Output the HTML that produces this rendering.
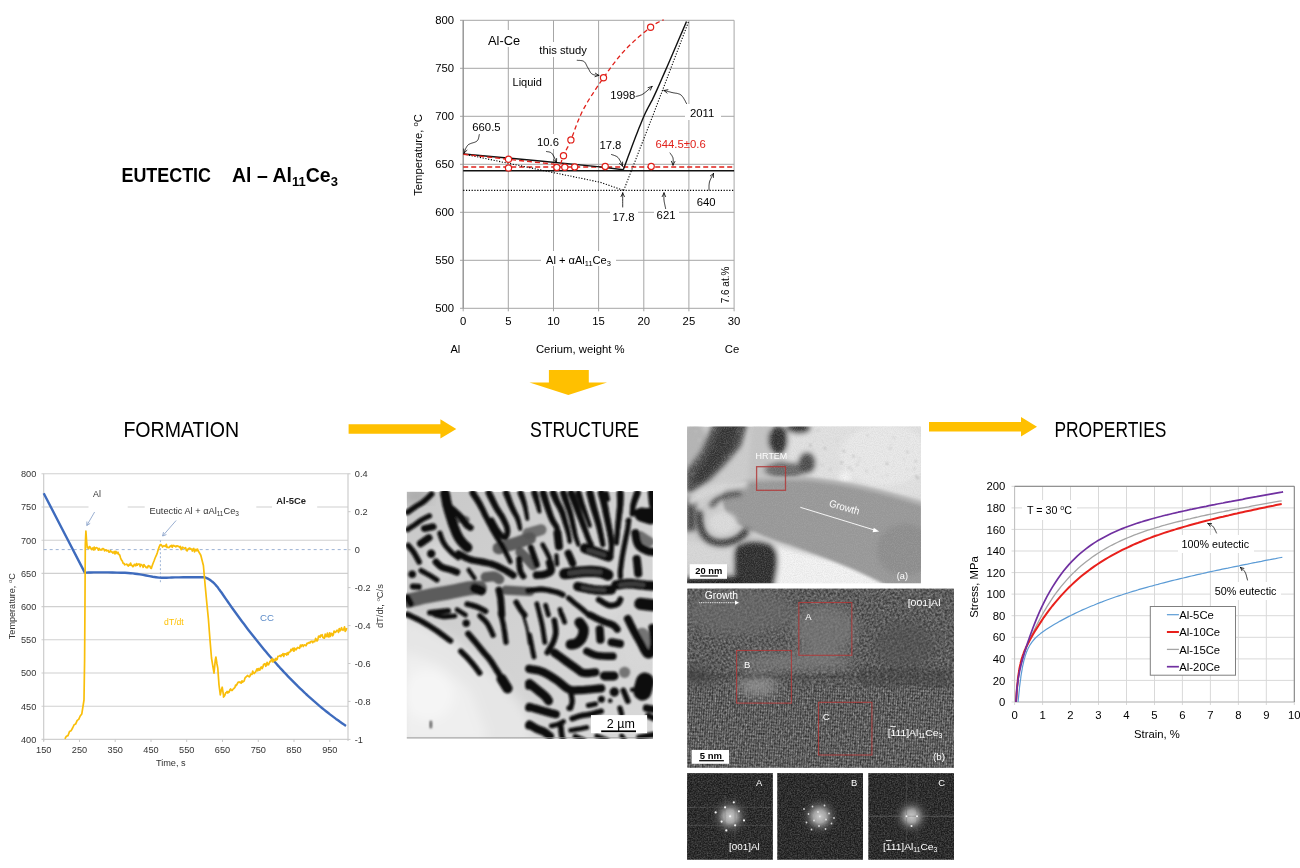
<!DOCTYPE html>
<html><head><meta charset="utf-8"><title>Al-Ce eutectic</title>
<style>
html,body{margin:0;padding:0;background:#fff;}
body{width:1300px;height:868px;overflow:hidden;}
svg{display:block;font-family:'Liberation Sans', sans-serif;}
</style></head>
<body>
<svg width="1300" height="868" viewBox="0 0 1300 868">
<rect x="0" y="0" width="1300" height="868" fill="#fff"/>
<text x="121.5" y="182.0" font-size="19.5" text-anchor="start" fill="#000" font-weight="bold" textLength="89.5" lengthAdjust="spacingAndGlyphs" >EUTECTIC</text>
<text x="232" y="182" font-size="19.5" font-weight="bold" fill="#000">Al – Al<tspan font-size="13" dy="4">11</tspan><tspan dy="-4">Ce</tspan><tspan font-size="13" dy="4">3</tspan></text>
<text x="123.4" y="436.5" font-size="21.6" text-anchor="start" fill="#000" textLength="115.8" lengthAdjust="spacingAndGlyphs" >FORMATION</text>
<text x="530.0" y="436.7" font-size="21.6" text-anchor="start" fill="#000" textLength="109" lengthAdjust="spacingAndGlyphs" >STRUCTURE</text>
<text x="1054.4" y="436.9" font-size="21.6" text-anchor="start" fill="#000" textLength="112" lengthAdjust="spacingAndGlyphs" >PROPERTIES</text>
<polygon points="348.6,424.2 440.4,424.2 440.4,419.2 456.3,428.9 440.4,438.6 440.4,433.7 348.6,433.7" fill="#FFC000"/>
<polygon points="929,422 1021,422 1021,417 1037,426.8 1021,436.6 1021,431.6 929,431.6" fill="#FFC000"/>
<polygon points="548.9,370.1 588.8,370.1 588.8,382.6 607,382.6 568.3,394.9 529.5,382.6 548.9,382.6" fill="#FFC000"/>
<g>
<line x1="460.0" y1="308.3" x2="734.1" y2="308.3" stroke="#a6a6a6" stroke-width="1" />
<line x1="460.0" y1="260.3" x2="734.1" y2="260.3" stroke="#a6a6a6" stroke-width="1" />
<line x1="460.0" y1="212.3" x2="734.1" y2="212.3" stroke="#a6a6a6" stroke-width="1" />
<line x1="460.0" y1="164.3" x2="734.1" y2="164.3" stroke="#a6a6a6" stroke-width="1" />
<line x1="460.0" y1="116.3" x2="734.1" y2="116.3" stroke="#a6a6a6" stroke-width="1" />
<line x1="460.0" y1="68.3" x2="734.1" y2="68.3" stroke="#a6a6a6" stroke-width="1" />
<line x1="460.0" y1="20.3" x2="734.1" y2="20.3" stroke="#a6a6a6" stroke-width="1" />
<line x1="463.2" y1="20.3" x2="463.2" y2="311.3" stroke="#a6a6a6" stroke-width="1" />
<line x1="508.3" y1="20.3" x2="508.3" y2="311.3" stroke="#a6a6a6" stroke-width="1" />
<line x1="553.5" y1="20.3" x2="553.5" y2="311.3" stroke="#a6a6a6" stroke-width="1" />
<line x1="598.6" y1="20.3" x2="598.6" y2="311.3" stroke="#a6a6a6" stroke-width="1" />
<line x1="643.8" y1="20.3" x2="643.8" y2="311.3" stroke="#a6a6a6" stroke-width="1" />
<line x1="688.9" y1="20.3" x2="688.9" y2="311.3" stroke="#a6a6a6" stroke-width="1" />
<line x1="734.1" y1="20.3" x2="734.1" y2="311.3" stroke="#a6a6a6" stroke-width="1" />
<line x1="463.2" y1="20.3" x2="463.2" y2="308.3" stroke="#8c8c8c" stroke-width="1" />
<rect x="484.0" y="30.0" width="40.0" height="17.0" fill="#fff" />
<rect x="536.0" y="42.0" width="54.0" height="15.0" fill="#fff" />
<rect x="509.0" y="73.0" width="36.0" height="16.0" fill="#fff" />
<rect x="606.0" y="86.0" width="34.0" height="16.0" fill="#fff" />
<rect x="685.0" y="104.0" width="36.0" height="16.0" fill="#fff" />
<rect x="469.0" y="119.0" width="35.0" height="15.0" fill="#fff" />
<rect x="533.0" y="134.0" width="28.0" height="15.0" fill="#fff" />
<rect x="610.0" y="208.0" width="28.0" height="16.0" fill="#fff" />
<rect x="654.0" y="206.0" width="25.0" height="16.0" fill="#fff" />
<rect x="541.0" y="251.0" width="75.0" height="15.0" fill="#fff" />
<text x="454.0" y="312.4" font-size="11.3" text-anchor="end" fill="#000" >500</text>
<text x="454.0" y="264.4" font-size="11.3" text-anchor="end" fill="#000" >550</text>
<text x="454.0" y="216.4" font-size="11.3" text-anchor="end" fill="#000" >600</text>
<text x="454.0" y="168.4" font-size="11.3" text-anchor="end" fill="#000" >650</text>
<text x="454.0" y="120.4" font-size="11.3" text-anchor="end" fill="#000" >700</text>
<text x="454.0" y="72.4" font-size="11.3" text-anchor="end" fill="#000" >750</text>
<text x="454.0" y="24.4" font-size="11.3" text-anchor="end" fill="#000" >800</text>
<text x="463.2" y="325.0" font-size="11.3" text-anchor="middle" fill="#000" >0</text>
<text x="508.3" y="325.0" font-size="11.3" text-anchor="middle" fill="#000" >5</text>
<text x="553.5" y="325.0" font-size="11.3" text-anchor="middle" fill="#000" >10</text>
<text x="598.6" y="325.0" font-size="11.3" text-anchor="middle" fill="#000" >15</text>
<text x="643.8" y="325.0" font-size="11.3" text-anchor="middle" fill="#000" >20</text>
<text x="688.9" y="325.0" font-size="11.3" text-anchor="middle" fill="#000" >25</text>
<text x="734.1" y="325.0" font-size="11.3" text-anchor="middle" fill="#000" >30</text>
<text x="455.3" y="353.0" font-size="11" text-anchor="middle" fill="#000" >Al</text>
<text x="732.0" y="353.0" font-size="11.3" text-anchor="middle" fill="#000" >Ce</text>
<text x="580.3" y="353.1" font-size="11.3" text-anchor="middle" fill="#000" textLength="88.8" lengthAdjust="spacingAndGlyphs" >Cerium, weight %</text>
<text transform="translate(421.5,155) rotate(-90)" font-size="11.1" text-anchor="middle" fill="#000" textLength="81.6" lengthAdjust="spacingAndGlyphs">Temperature, <tspan font-size="7.5" dy="-4">o</tspan><tspan dy="4">C</tspan></text>
<text transform="translate(728.5,285) rotate(-90)" font-size="10" text-anchor="middle" fill="#000">7.6 at.%</text>
<text x="488.0" y="44.7" font-size="12.8" text-anchor="start" fill="#000" >Al-Ce</text>
<text x="539.3" y="53.8" font-size="11.2" text-anchor="start" fill="#000" textLength="47.5" lengthAdjust="spacingAndGlyphs" >this study</text>
<text x="512.5" y="85.6" font-size="11.1" text-anchor="start" fill="#000" textLength="29.4" lengthAdjust="spacingAndGlyphs" >Liquid</text>
<text x="610.2" y="99.3" font-size="11.3" text-anchor="start" fill="#000" >1998</text>
<text x="690.0" y="116.5" font-size="11.3" text-anchor="start" fill="#000" >2011</text>
<text x="472.3" y="131.2" font-size="11.3" text-anchor="start" fill="#000" >660.5</text>
<text x="537.0" y="145.7" font-size="11.3" text-anchor="start" fill="#000" >10.6</text>
<text x="599.4" y="149.3" font-size="11.3" text-anchor="start" fill="#000" >17.8</text>
<text x="655.5" y="147.5" font-size="11.3" text-anchor="start" fill="#e0201a" >644.5±0.6</text>
<text x="612.5" y="220.8" font-size="11.3" text-anchor="start" fill="#000" >17.8</text>
<text x="656.6" y="218.8" font-size="11.3" text-anchor="start" fill="#000" >621</text>
<text x="696.7" y="206.1" font-size="11.3" text-anchor="start" fill="#000" >640</text>
<text x="578.5" y="263.5" font-size="11.1" text-anchor="middle" fill="#000">Al + αAl<tspan font-size="7.5" dy="2.5">11</tspan><tspan dy="-2.5">Ce</tspan><tspan font-size="7.5" dy="2.5">3</tspan></text>
<line x1="463.2" y1="190.4" x2="734.1" y2="190.4" stroke="#000" stroke-width="1.1" stroke-dasharray="1.2,1.6" />
<line x1="463.2" y1="170.7" x2="734.1" y2="170.7" stroke="#111" stroke-width="1.6" />
<line x1="463.2" y1="167.0" x2="734.1" y2="167.0" stroke="#e0201a" stroke-width="1.4" stroke-dasharray="5,3" />
<polyline points="463.4,154.0 540.0,161.0 600.0,166.9 623.3,169.8" fill="none" stroke="#111" stroke-width="1.4" />
<polyline points="623.3,169.8 624.5,166.6 626.1,162.2 628.0,157.0 630.1,151.4 632.1,145.9 634.0,141.0 635.7,136.6 637.4,132.2 639.0,128.0 640.7,123.9 642.3,119.9 644.0,116.0 645.6,112.5 647.2,109.4 648.8,106.3 650.5,103.2 652.4,99.6 654.4,95.4 656.7,90.4 659.2,84.8 661.8,78.8 664.5,72.6 667.3,66.3 670.0,60.0 672.9,53.3 676.0,46.0 679.2,38.5 682.2,31.6 684.7,25.7 686.5,21.5" fill="none" stroke="#111" stroke-width="1.4" />
<polyline points="463.4,154.0 600.0,182.2 623.7,190.4" fill="none" stroke="#000" stroke-width="1.1" stroke-dasharray="1.2,1.6" />
<polyline points="623.7,190.4 655.0,110.0 688.6,21.5" fill="none" stroke="#000" stroke-width="1.1" stroke-dasharray="1.2,1.6" />
<polyline points="463.4,154.3 468.3,154.8 475.0,155.6 482.9,156.5 491.6,157.4 500.3,158.4 508.5,159.3 516.9,160.2 526.2,161.2 535.5,162.2 544.2,163.1 551.5,163.9 556.8,164.5" fill="none" stroke="#e0201a" stroke-width="1.4" stroke-dasharray="5,3" />
<polyline points="560.5,164.2 560.7,163.6 561.0,162.8 561.3,161.9 561.6,160.8 562.1,159.7 562.5,158.4 563.1,157.0 563.7,155.5 564.4,154.0 565.1,152.4 565.9,150.8 566.7,149.0 567.7,147.1 568.7,145.0 569.7,142.6 570.9,139.9 572.1,136.9 573.4,133.5 574.7,129.8 576.1,126.0 577.6,122.0 579.3,118.0 581.1,113.9 583.0,110.0 585.2,106.1 587.5,102.0 590.0,97.9 592.7,93.8 595.4,89.7 598.1,85.6 600.8,81.6 603.5,77.8 606.1,74.1 608.7,70.4 611.3,66.8 613.9,63.3 616.6,59.9 619.3,56.5 622.1,53.2 625.0,50.0 628.1,46.8 631.4,43.6 634.8,40.4 638.3,37.3 641.7,34.4 645.0,31.7 648.0,29.3 650.6,27.2 652.9,25.5 655.1,24.1 657.0,22.9 658.8,22.0 660.3,21.3 661.6,20.7 662.8,20.2 663.7,19.7" fill="none" stroke="#e0201a" stroke-width="1.3" stroke-dasharray="4.5,3" />
<circle cx="508.5" cy="159.3" r="3.1" fill="#fff" stroke="#e0201a" stroke-width="1.2"/>
<circle cx="508.5" cy="167.9" r="3.1" fill="#fff" stroke="#e0201a" stroke-width="1.2"/>
<circle cx="556.8" cy="167.5" r="3.1" fill="#fff" stroke="#e0201a" stroke-width="1.2"/>
<circle cx="564.8" cy="167.2" r="3.1" fill="#fff" stroke="#e0201a" stroke-width="1.2"/>
<circle cx="574.7" cy="167.0" r="3.1" fill="#fff" stroke="#e0201a" stroke-width="1.2"/>
<circle cx="563.5" cy="155.8" r="3.1" fill="#fff" stroke="#e0201a" stroke-width="1.2"/>
<circle cx="570.9" cy="139.9" r="3.1" fill="#fff" stroke="#e0201a" stroke-width="1.2"/>
<circle cx="603.5" cy="77.8" r="3.1" fill="#fff" stroke="#e0201a" stroke-width="1.2"/>
<circle cx="650.6" cy="27.2" r="3.1" fill="#fff" stroke="#e0201a" stroke-width="1.2"/>
<circle cx="605.2" cy="166.5" r="3.1" fill="#fff" stroke="#e0201a" stroke-width="1.2"/>
<circle cx="651.2" cy="166.5" r="3.1" fill="#fff" stroke="#e0201a" stroke-width="1.2"/>
<polyline points="479.3,134.6 479.2,135.0 479.1,135.5 479.0,136.1 478.9,136.8 478.7,137.5 478.5,138.3 478.3,139.1 477.9,139.8 477.5,140.4 477.0,141.0 476.3,141.5 475.5,141.9 474.6,142.3 473.6,142.6 472.6,142.9 471.6,143.2 470.5,143.6 469.6,144.0 468.7,144.4 468.0,145.0 467.4,145.7 466.8,146.5 466.3,147.4 465.8,148.3 465.4,149.2 465.1,150.2 464.7,151.1 464.5,151.8 464.2,152.5 464.0,153.0" fill="none" stroke="#000" stroke-width="0.8" stroke-linecap="round"/>
<line x1="464.0" y1="153.0" x2="463.7" y2="149.0" stroke="#000" stroke-width="0.8" stroke-linecap="round"/>
<line x1="464.0" y1="153.0" x2="467.0" y2="150.3" stroke="#000" stroke-width="0.8" stroke-linecap="round"/>
<polyline points="546.4,151.5 546.7,151.6 547.2,151.7 547.7,151.7 548.3,151.8 548.9,151.9 549.6,152.1 550.2,152.3 550.9,152.6 551.5,153.0 552.0,153.5 552.5,154.2 553.0,155.0 553.6,156.0 554.1,157.0 554.6,158.1 555.1,159.2 555.5,160.2 555.9,161.2 556.2,161.9 556.5,162.5" fill="none" stroke="#000" stroke-width="0.8" stroke-linecap="round"/>
<line x1="556.5" y1="162.5" x2="553.4" y2="159.9" stroke="#000" stroke-width="0.8" stroke-linecap="round"/>
<line x1="556.5" y1="162.5" x2="556.6" y2="158.5" stroke="#000" stroke-width="0.8" stroke-linecap="round"/>
<polyline points="577.2,60.3 577.6,60.3 578.2,60.4 578.8,60.4 579.6,60.4 580.4,60.5 581.2,60.6 582.0,60.7 582.7,60.9 583.4,61.2 584.0,61.5 584.5,61.9 585.0,62.5 585.4,63.1 585.8,63.7 586.2,64.5 586.5,65.2 586.9,65.9 587.2,66.6 587.6,67.3 588.0,68.0 588.4,68.6 588.8,69.3 589.1,70.0 589.5,70.7 589.8,71.3 590.2,72.0 590.6,72.6 591.0,73.1 591.5,73.6 592.0,74.0 592.6,74.3 593.3,74.6 594.0,74.8 594.8,75.0 595.6,75.1 596.4,75.2 597.2,75.2 597.8,75.3 598.4,75.3 598.8,75.4" fill="none" stroke="#000" stroke-width="0.8" stroke-linecap="round"/>
<line x1="598.8" y1="75.4" x2="595.0" y2="76.7" stroke="#000" stroke-width="0.8" stroke-linecap="round"/>
<line x1="598.8" y1="75.4" x2="595.4" y2="73.2" stroke="#000" stroke-width="0.8" stroke-linecap="round"/>
<polyline points="636.0,96.5 636.4,96.4 636.9,96.2 637.5,96.1 638.2,95.9 638.9,95.7 639.7,95.5 640.5,95.2 641.4,94.9 642.2,94.5 643.0,94.0 643.9,93.4 644.8,92.7 645.8,91.9 646.9,91.0 647.9,90.1 649.0,89.2 649.9,88.4 650.7,87.6 651.5,87.0 652.0,86.5" fill="none" stroke="#000" stroke-width="0.8" stroke-linecap="round"/>
<line x1="652.0" y1="86.5" x2="650.4" y2="90.2" stroke="#000" stroke-width="0.8" stroke-linecap="round"/>
<line x1="652.0" y1="86.5" x2="648.1" y2="87.6" stroke="#000" stroke-width="0.8" stroke-linecap="round"/>
<polyline points="686.5,103.5 686.2,103.0 685.8,102.2 685.4,101.4 684.9,100.4 684.3,99.4 683.7,98.4 683.1,97.4 682.4,96.5 681.7,95.6 681.0,95.0 680.2,94.5 679.4,94.1 678.5,93.8 677.6,93.5 676.7,93.3 675.7,93.2 674.7,93.0 673.8,92.9 672.9,92.7 672.0,92.5 671.1,92.3 670.2,92.0 669.3,91.8 668.3,91.6 667.4,91.3 666.6,91.1 665.8,90.9 665.1,90.8 664.5,90.6 664.0,90.5" fill="none" stroke="#000" stroke-width="0.8" stroke-linecap="round"/>
<line x1="664.0" y1="90.5" x2="667.9" y2="89.7" stroke="#000" stroke-width="0.8" stroke-linecap="round"/>
<line x1="664.0" y1="90.5" x2="667.1" y2="93.1" stroke="#000" stroke-width="0.8" stroke-linecap="round"/>
<polyline points="611.5,154.5 611.9,154.7 612.4,154.8 613.0,155.0 613.7,155.2 614.5,155.5 615.2,155.8 616.0,156.1 616.7,156.5 617.4,157.0 618.0,157.5 618.6,158.2 619.1,159.0 619.6,159.9 620.2,160.9 620.7,161.9 621.1,162.9 621.5,163.9 621.9,164.8 622.2,165.5 622.5,166.0" fill="none" stroke="#000" stroke-width="0.8" stroke-linecap="round"/>
<line x1="622.5" y1="166.0" x2="619.4" y2="163.5" stroke="#000" stroke-width="0.8" stroke-linecap="round"/>
<line x1="622.5" y1="166.0" x2="622.6" y2="162.0" stroke="#000" stroke-width="0.8" stroke-linecap="round"/>
<polyline points="670.0,153.0 670.2,153.3 670.5,153.6 670.8,154.1 671.1,154.5 671.5,155.1 671.9,155.6 672.2,156.2 672.5,156.8 672.8,157.4 673.0,158.0 673.1,158.7 673.2,159.4 673.2,160.2 673.2,161.0 673.2,161.8 673.1,162.6 673.1,163.4 673.0,164.0 673.0,164.6 673.0,165.0" fill="none" stroke="#000" stroke-width="0.8" stroke-linecap="round"/>
<line x1="673.0" y1="165.0" x2="671.4" y2="161.3" stroke="#000" stroke-width="0.8" stroke-linecap="round"/>
<line x1="673.0" y1="165.0" x2="674.9" y2="161.5" stroke="#000" stroke-width="0.8" stroke-linecap="round"/>
<polyline points="622.7,207.0 622.7,206.1 622.7,204.9 622.7,203.4 622.7,201.7 622.7,200.0 622.7,198.3 622.7,196.6 622.7,195.1 622.7,193.9 622.7,193.0" fill="none" stroke="#000" stroke-width="0.8" stroke-linecap="round"/>
<line x1="622.7" y1="193.0" x2="624.4" y2="196.6" stroke="#000" stroke-width="0.8" stroke-linecap="round"/>
<line x1="622.7" y1="193.0" x2="621.0" y2="196.6" stroke="#000" stroke-width="0.8" stroke-linecap="round"/>
<polyline points="665.6,208.5 665.5,208.0 665.4,207.3 665.2,206.5 665.0,205.6 664.8,204.7 664.6,203.7 664.4,202.7 664.2,201.7 664.1,200.8 664.0,200.0 663.9,199.2 663.9,198.4 663.9,197.6 663.9,196.8 663.9,196.0 663.9,195.2 663.9,194.5 664.0,193.9 664.0,193.4 664.0,193.0" fill="none" stroke="#000" stroke-width="0.8" stroke-linecap="round"/>
<line x1="664.0" y1="193.0" x2="665.6" y2="196.6" stroke="#000" stroke-width="0.8" stroke-linecap="round"/>
<line x1="664.0" y1="193.0" x2="662.2" y2="196.6" stroke="#000" stroke-width="0.8" stroke-linecap="round"/>
<polyline points="709.0,190.0 709.0,189.5 709.0,188.9 709.0,188.2 709.0,187.4 709.0,186.5 709.0,185.6 709.1,184.7 709.2,183.8 709.3,182.9 709.5,182.0 709.8,181.1 710.1,180.2 710.6,179.2 711.0,178.2 711.5,177.2 712.0,176.3 712.5,175.4 712.9,174.7 713.2,174.0 713.5,173.5" fill="none" stroke="#000" stroke-width="0.8" stroke-linecap="round"/>
<line x1="713.5" y1="173.5" x2="713.4" y2="177.5" stroke="#000" stroke-width="0.8" stroke-linecap="round"/>
<line x1="713.5" y1="173.5" x2="710.3" y2="175.9" stroke="#000" stroke-width="0.8" stroke-linecap="round"/>
</g>
<g>
<line x1="41.5" y1="739.4" x2="348.0" y2="739.4" stroke="#d0d0d0" stroke-width="1.1" />
<line x1="41.5" y1="706.2" x2="348.0" y2="706.2" stroke="#d0d0d0" stroke-width="1.1" />
<line x1="41.5" y1="673.0" x2="348.0" y2="673.0" stroke="#d0d0d0" stroke-width="1.1" />
<line x1="41.5" y1="639.8" x2="348.0" y2="639.8" stroke="#d0d0d0" stroke-width="1.1" />
<line x1="41.5" y1="606.6" x2="348.0" y2="606.6" stroke="#d0d0d0" stroke-width="1.1" />
<line x1="41.5" y1="573.4" x2="348.0" y2="573.4" stroke="#d0d0d0" stroke-width="1.1" />
<line x1="41.5" y1="540.2" x2="348.0" y2="540.2" stroke="#d0d0d0" stroke-width="1.1" />
<line x1="41.5" y1="507.0" x2="348.0" y2="507.0" stroke="#d0d0d0" stroke-width="1.1" />
<line x1="41.5" y1="473.8" x2="348.0" y2="473.8" stroke="#d0d0d0" stroke-width="1.1" />
<line x1="43.7" y1="473.8" x2="43.7" y2="741.0" stroke="#c8c8c8" stroke-width="1.1" />
<line x1="348.0" y1="473.8" x2="348.0" y2="741.0" stroke="#c8c8c8" stroke-width="1.1" />
<line x1="43.7" y1="739.4" x2="43.7" y2="742.0" stroke="#c8c8c8" stroke-width="1" />
<line x1="79.5" y1="739.4" x2="79.5" y2="742.0" stroke="#c8c8c8" stroke-width="1" />
<line x1="115.2" y1="739.4" x2="115.2" y2="742.0" stroke="#c8c8c8" stroke-width="1" />
<line x1="151.0" y1="739.4" x2="151.0" y2="742.0" stroke="#c8c8c8" stroke-width="1" />
<line x1="186.7" y1="739.4" x2="186.7" y2="742.0" stroke="#c8c8c8" stroke-width="1" />
<line x1="222.5" y1="739.4" x2="222.5" y2="742.0" stroke="#c8c8c8" stroke-width="1" />
<line x1="258.3" y1="739.4" x2="258.3" y2="742.0" stroke="#c8c8c8" stroke-width="1" />
<line x1="294.0" y1="739.4" x2="294.0" y2="742.0" stroke="#c8c8c8" stroke-width="1" />
<line x1="329.8" y1="739.4" x2="329.8" y2="742.0" stroke="#c8c8c8" stroke-width="1" />
<line x1="348.0" y1="473.8" x2="350.5" y2="473.8" stroke="#c8c8c8" stroke-width="1" />
<line x1="348.0" y1="511.7" x2="350.5" y2="511.7" stroke="#c8c8c8" stroke-width="1" />
<line x1="348.0" y1="549.7" x2="350.5" y2="549.7" stroke="#c8c8c8" stroke-width="1" />
<line x1="348.0" y1="587.6" x2="350.5" y2="587.6" stroke="#c8c8c8" stroke-width="1" />
<line x1="348.0" y1="625.6" x2="350.5" y2="625.6" stroke="#c8c8c8" stroke-width="1" />
<line x1="348.0" y1="663.5" x2="350.5" y2="663.5" stroke="#c8c8c8" stroke-width="1" />
<line x1="348.0" y1="701.4" x2="350.5" y2="701.4" stroke="#c8c8c8" stroke-width="1" />
<line x1="348.0" y1="739.4" x2="350.5" y2="739.4" stroke="#c8c8c8" stroke-width="1" />
<rect x="88.5" y="486.0" width="39.2" height="26.0" fill="#fff" />
<rect x="144.7" y="500.0" width="111.6" height="16.0" fill="#fff" />
<rect x="272.0" y="495.0" width="45.2" height="16.0" fill="#fff" />
<text x="36.3" y="742.7" font-size="9.2" text-anchor="end" fill="#333333" >400</text>
<text x="36.3" y="709.5" font-size="9.2" text-anchor="end" fill="#333333" >450</text>
<text x="36.3" y="676.3" font-size="9.2" text-anchor="end" fill="#333333" >500</text>
<text x="36.3" y="643.1" font-size="9.2" text-anchor="end" fill="#333333" >550</text>
<text x="36.3" y="609.9" font-size="9.2" text-anchor="end" fill="#333333" >600</text>
<text x="36.3" y="576.7" font-size="9.2" text-anchor="end" fill="#333333" >650</text>
<text x="36.3" y="543.5" font-size="9.2" text-anchor="end" fill="#333333" >700</text>
<text x="36.3" y="510.3" font-size="9.2" text-anchor="end" fill="#333333" >750</text>
<text x="36.3" y="477.1" font-size="9.2" text-anchor="end" fill="#333333" >800</text>
<text x="43.7" y="753.3" font-size="9.2" text-anchor="middle" fill="#333333" >150</text>
<text x="79.5" y="753.3" font-size="9.2" text-anchor="middle" fill="#333333" >250</text>
<text x="115.2" y="753.3" font-size="9.2" text-anchor="middle" fill="#333333" >350</text>
<text x="151.0" y="753.3" font-size="9.2" text-anchor="middle" fill="#333333" >450</text>
<text x="186.7" y="753.3" font-size="9.2" text-anchor="middle" fill="#333333" >550</text>
<text x="222.5" y="753.3" font-size="9.2" text-anchor="middle" fill="#333333" >650</text>
<text x="258.3" y="753.3" font-size="9.2" text-anchor="middle" fill="#333333" >750</text>
<text x="294.0" y="753.3" font-size="9.2" text-anchor="middle" fill="#333333" >850</text>
<text x="329.8" y="753.3" font-size="9.2" text-anchor="middle" fill="#333333" >950</text>
<text x="354.8" y="477.1" font-size="9.2" text-anchor="start" fill="#333333" >0.4</text>
<text x="354.8" y="515.0" font-size="9.2" text-anchor="start" fill="#333333" >0.2</text>
<text x="354.8" y="553.0" font-size="9.2" text-anchor="start" fill="#333333" >0</text>
<text x="354.8" y="590.9" font-size="9.2" text-anchor="start" fill="#333333" >-0.2</text>
<text x="354.8" y="628.9" font-size="9.2" text-anchor="start" fill="#333333" >-0.4</text>
<text x="354.8" y="666.8" font-size="9.2" text-anchor="start" fill="#333333" >-0.6</text>
<text x="354.8" y="704.7" font-size="9.2" text-anchor="start" fill="#333333" >-0.8</text>
<text x="354.8" y="742.7" font-size="9.2" text-anchor="start" fill="#333333" >-1</text>
<text x="170.8" y="765.5" font-size="9.2" text-anchor="middle" fill="#333333" >Time, s</text>
<text transform="translate(15.4,606.2) rotate(-90)" font-size="9.1" text-anchor="middle" fill="#333333" textLength="66" lengthAdjust="spacingAndGlyphs">Temperature, <tspan font-size="6" dy="-3">o</tspan><tspan dy="3">C</tspan></text>
<text transform="translate(383,606.1) rotate(-90)" font-size="9.1" text-anchor="middle" fill="#333333" textLength="44" lengthAdjust="spacingAndGlyphs">dT/dt, <tspan font-size="6" dy="-3">o</tspan><tspan dy="3">C/s</tspan></text>
<text x="93.1" y="497.3" font-size="8.8" text-anchor="start" fill="#333333" >Al</text>
<text x="149.6" y="513.6" font-size="9.2" fill="#333333" textLength="89.3" lengthAdjust="spacingAndGlyphs">Eutectic Al + αAl<tspan font-size="6.5" dy="2.5">11</tspan><tspan dy="-2.5">Ce</tspan><tspan font-size="6.5" dy="2.5">3</tspan></text>
<text x="276.3" y="504.4" font-size="9.2" text-anchor="start" fill="#222" font-weight="bold" textLength="29.8" lengthAdjust="spacingAndGlyphs" >Al-5Ce</text>
<text x="164.1" y="625.3" font-size="9.2" text-anchor="start" fill="#FFC000" textLength="19.6" lengthAdjust="spacingAndGlyphs" >dT/dt</text>
<text x="260.0" y="621.0" font-size="9.8" text-anchor="start" fill="#5b8bc8" textLength="14" lengthAdjust="spacingAndGlyphs" >CC</text>
<line x1="43.7" y1="549.6" x2="348.0" y2="549.6" stroke="#9db3d6" stroke-width="1.0" stroke-dasharray="3,3" />
<line x1="160.4" y1="540.2" x2="160.4" y2="583.0" stroke="#9db3d6" stroke-width="1.0" stroke-dasharray="2,2" />
<line x1="94.6" y1="512.0" x2="86.8" y2="525.5" stroke="#8ea6cc" stroke-width="0.9" />
<line x1="86.8" y1="525.5" x2="86.9" y2="521.5" stroke="#8ea6cc" stroke-width="0.9" />
<line x1="86.8" y1="525.5" x2="90.2" y2="523.4" stroke="#8ea6cc" stroke-width="0.9" />
<line x1="176.1" y1="520.5" x2="162.6" y2="536.0" stroke="#8ea6cc" stroke-width="0.9" />
<line x1="162.6" y1="536.0" x2="163.5" y2="532.1" stroke="#8ea6cc" stroke-width="0.9" />
<line x1="162.6" y1="536.0" x2="166.4" y2="534.6" stroke="#8ea6cc" stroke-width="0.9" />
<polyline points="43.7,493.2 64.0,532.5 84.8,572.6 84.8,572.6 86.3,572.6 88.4,572.5 90.8,572.5 93.6,572.4 96.7,572.4 100.0,572.4 103.7,572.4 108.0,572.4 112.5,572.5 117.0,572.6 121.3,572.7 125.0,572.8 128.0,573.0 130.6,573.2 132.9,573.4 135.1,573.7 137.4,574.0 140.0,574.4 143.0,574.9 146.1,575.5 149.4,576.1 152.7,576.7 156.0,577.2 159.0,577.6 161.7,577.8 164.2,577.8 166.6,577.7 169.1,577.6 171.8,577.5 175.0,577.4 178.9,577.4 183.4,577.3 188.1,577.2 192.7,577.2 196.8,577.2 200.0,577.2 202.1,577.2 203.5,577.2 204.3,577.2 204.8,577.3 205.4,577.5 206.2,577.8 207.3,578.3 208.3,578.9 209.4,579.5 210.5,580.3 211.5,581.1 212.4,581.8 213.3,582.5 214.0,583.2 214.8,584.0 215.5,584.8 216.2,585.6 217.0,586.5 217.9,587.6 218.8,588.9 219.8,590.2 220.7,591.5 221.5,592.5 222.0,593.3 224.0,596.2 226.0,599.1 228.0,602.0 230.0,604.9 232.0,607.7 234.0,610.5 236.0,613.3 238.0,616.0 240.0,618.8 242.0,621.5 244.0,624.1 246.0,626.8 248.0,629.4 250.0,632.0 252.0,634.6 254.0,637.1 256.0,639.6 258.0,642.1 260.0,644.6 262.0,647.0 264.0,649.4 266.0,651.8 268.0,654.2 270.0,656.5 272.0,658.8 274.0,661.1 276.0,663.3 278.0,665.6 280.0,667.8 282.0,669.9 284.0,672.1 286.0,674.2 288.0,676.3 290.0,678.4 292.0,680.4 294.0,682.4 296.0,684.4 298.0,686.4 300.0,688.3 302.0,690.2 304.0,692.1 306.0,694.0 308.0,695.8 310.0,697.6 312.0,699.4 314.0,701.2 316.0,702.9 318.0,704.6 320.0,706.3 322.0,708.0 324.0,709.6 326.0,711.2 328.0,712.8 330.0,714.4 332.0,715.9 334.0,717.4 336.0,718.9 338.0,720.3 340.0,721.8 342.0,723.2 344.0,724.6 346.0,725.9" fill="none" stroke="#3e6bbd" stroke-width="2.4" stroke-linejoin="round"/>
<polyline points="64.9,738.9 66.4,736.2 68.0,735.6 69.5,731.5 71.0,730.8 72.6,728.0 74.1,724.8 75.6,724.1 77.2,720.4 78.7,719.4 80.2,716.0 81.8,713.9 84.0,700.0 84.6,660.0 85.0,600.0 85.3,545.0 85.9,531.0 86.6,541.0 87.3,548.0 88.0,547.3 88.7,548.7 89.4,546.5 90.1,547.0 90.8,548.4 91.5,549.5 92.2,548.4 92.8,548.0 93.5,549.9 94.2,547.1 94.9,549.8 95.6,548.1 96.3,547.7 97.0,547.8 97.7,548.5 98.4,550.2 99.1,548.3 99.8,549.7 100.5,550.0 101.2,549.3 101.8,550.0 102.5,548.5 103.2,548.6 103.9,549.2 104.6,550.8 105.3,550.2 106.0,549.9 106.8,550.9 107.5,550.7 108.2,550.3 109.0,552.1 109.8,551.9 110.5,550.6 111.2,551.8 112.0,551.8 112.8,553.1 113.5,552.8 114.2,551.5 115.0,553.9 115.8,551.3 116.5,552.4 117.2,553.7 118.0,552.2 118.9,554.5 119.7,555.0 120.6,558.1 121.4,559.9 122.3,561.0 123.1,563.3 124.0,563.3 124.7,564.8 125.5,564.5 126.2,564.5 126.9,564.1 127.7,565.6 128.4,566.0 129.2,564.4 129.9,565.2 130.6,563.1 131.4,565.5 132.1,565.3 132.8,566.7 133.6,566.1 134.3,564.3 135.1,564.7 135.8,565.8 136.5,563.5 137.3,565.2 138.0,564.2 138.7,564.1 139.5,564.0 140.2,566.6 140.9,564.4 141.7,564.9 142.4,565.4 143.2,567.3 143.9,564.5 144.6,565.9 145.4,566.3 146.1,567.6 146.8,567.4 147.6,567.7 148.3,565.6 149.1,566.2 149.8,566.1 150.5,568.0 151.3,568.4 152.0,566.2 153.0,563.5 154.1,560.8 155.1,558.0 156.2,555.7 157.2,553.1 158.2,549.8 159.3,546.6 160.3,544.7 161.0,544.6 161.8,545.5 162.5,547.0 163.3,546.1 164.0,545.6 164.8,546.1 165.5,546.4 166.3,544.3 167.0,547.5 167.7,547.2 168.5,547.6 169.2,547.5 170.0,546.1 170.7,546.3 171.5,545.3 172.2,547.3 173.0,545.4 173.7,545.5 174.4,546.1 175.2,546.1 175.9,546.8 176.7,545.9 177.4,545.9 178.2,546.5 178.9,546.4 179.7,547.5 180.4,546.4 181.1,549.6 181.9,548.8 182.6,547.2 183.4,547.7 184.1,548.1 184.9,548.3 185.6,547.6 186.3,550.3 187.1,550.9 187.8,549.1 188.6,549.3 189.3,548.0 190.1,548.2 190.8,549.2 191.6,549.0 192.3,551.1 193.0,548.9 193.8,548.5 194.5,551.9 195.3,550.5 196.0,549.3 196.8,550.8 197.5,549.1 198.3,551.0 200.8,555.3 203.4,565.5 205.3,587.0 206.8,603.0 208.4,619.0 210.0,640.0 211.5,658.0 214.0,673.2 215.3,660.0 215.9,657.0 217.0,664.0 217.8,668.2 219.0,685.0 220.3,694.8 221.3,690.0 222.2,687.2 223.5,695.4 223.5,697.1 224.2,696.2 224.9,695.0 225.6,692.9 226.3,692.7 227.1,691.4 227.8,693.0 228.5,691.6 229.2,692.0 229.9,689.8 230.6,688.9 231.3,690.4 232.1,690.5 232.8,689.5 233.5,688.7 234.2,688.2 234.9,687.4 235.6,685.0 236.3,685.5 237.0,684.3 237.8,682.6 238.5,682.0 239.2,682.4 239.9,681.8 240.6,682.8 241.3,683.2 242.0,680.8 242.7,682.0 243.4,681.6 244.2,680.9 244.9,678.3 245.6,677.2 246.3,676.7 247.0,676.0 247.7,675.5 248.4,676.4 249.2,676.9 249.9,676.1 250.6,674.2 251.3,674.3 252.0,674.4 252.7,671.1 253.4,672.9 254.2,673.5 254.9,672.5 255.6,672.0 256.3,670.4 257.0,668.8 257.8,670.8 258.5,668.5 259.2,669.9 259.9,670.1 260.6,667.4 261.4,667.0 262.1,668.7 262.8,667.3 263.5,664.7 264.2,664.1 265.0,663.7 265.7,666.3 266.4,665.4 267.1,662.3 267.8,664.6 268.6,664.8 269.3,663.0 270.0,661.4 270.7,661.7 271.4,659.6 272.2,658.7 272.9,662.0 273.6,660.3 274.3,659.5 275.0,660.8 275.8,658.4 276.5,659.9 277.2,659.3 277.9,656.4 278.7,656.2 279.4,656.0 280.1,655.5 280.8,656.6 281.6,654.8 282.3,655.2 283.0,653.6 283.7,656.5 284.5,653.8 285.2,653.9 285.9,654.1 286.6,655.1 287.3,652.7 288.1,654.5 288.8,652.4 289.5,652.1 290.2,651.7 291.0,649.3 291.7,650.7 292.4,649.3 293.1,648.2 293.9,651.2 294.6,648.2 295.3,649.1 296.0,649.8 296.7,648.7 297.5,647.4 298.2,647.9 298.9,647.7 299.6,648.3 300.4,645.1 301.1,646.7 301.8,645.0 302.5,644.8 303.3,646.5 304.0,645.0 304.7,644.9 305.4,645.4 306.1,645.7 306.9,643.4 307.6,643.7 308.3,642.9 309.0,642.6 309.8,643.0 310.5,641.6 311.2,641.6 311.9,641.1 312.7,642.7 313.4,641.3 314.1,641.7 314.8,641.6 315.6,638.4 316.3,639.3 317.0,641.0 317.7,640.2 318.5,636.3 319.2,636.0 320.0,637.4 320.7,635.2 321.5,635.8 322.2,634.7 322.9,637.5 323.7,637.9 324.4,638.2 325.2,634.1 325.9,636.7 326.7,636.2 327.4,633.2 328.1,636.8 328.9,637.0 329.6,632.9 330.4,636.4 331.1,633.3 331.9,633.5 332.6,635.8 333.3,634.8 334.1,631.0 334.8,632.2 335.6,632.3 336.3,631.2 337.0,630.2 337.8,630.5 338.5,632.4 339.3,628.5 340.0,631.0 340.8,630.2 341.5,627.7 342.2,629.1 343.0,630.3 343.7,629.5 344.5,626.9 345.2,631.4 346.0,630.2 346.7,628.0" fill="none" stroke="#F9BE0A" stroke-width="1.7" stroke-linejoin="round"/>
</g>
<g>
<line x1="1011.5" y1="702.0" x2="1294.3" y2="702.0" stroke="#d9d9d9" stroke-width="1" />
<line x1="1011.5" y1="680.4" x2="1294.3" y2="680.4" stroke="#d9d9d9" stroke-width="1" />
<line x1="1011.5" y1="658.9" x2="1294.3" y2="658.9" stroke="#d9d9d9" stroke-width="1" />
<line x1="1011.5" y1="637.3" x2="1294.3" y2="637.3" stroke="#d9d9d9" stroke-width="1" />
<line x1="1011.5" y1="615.7" x2="1294.3" y2="615.7" stroke="#d9d9d9" stroke-width="1" />
<line x1="1011.5" y1="594.1" x2="1294.3" y2="594.1" stroke="#d9d9d9" stroke-width="1" />
<line x1="1011.5" y1="572.6" x2="1294.3" y2="572.6" stroke="#d9d9d9" stroke-width="1" />
<line x1="1011.5" y1="551.0" x2="1294.3" y2="551.0" stroke="#d9d9d9" stroke-width="1" />
<line x1="1011.5" y1="529.4" x2="1294.3" y2="529.4" stroke="#d9d9d9" stroke-width="1" />
<line x1="1011.5" y1="507.9" x2="1294.3" y2="507.9" stroke="#d9d9d9" stroke-width="1" />
<line x1="1011.5" y1="486.3" x2="1294.3" y2="486.3" stroke="#d9d9d9" stroke-width="1" />
<line x1="1014.6" y1="486.3" x2="1014.6" y2="705.0" stroke="#d9d9d9" stroke-width="1" />
<line x1="1042.6" y1="486.3" x2="1042.6" y2="705.0" stroke="#d9d9d9" stroke-width="1" />
<line x1="1070.5" y1="486.3" x2="1070.5" y2="705.0" stroke="#d9d9d9" stroke-width="1" />
<line x1="1098.5" y1="486.3" x2="1098.5" y2="705.0" stroke="#d9d9d9" stroke-width="1" />
<line x1="1126.5" y1="486.3" x2="1126.5" y2="705.0" stroke="#d9d9d9" stroke-width="1" />
<line x1="1154.5" y1="486.3" x2="1154.5" y2="705.0" stroke="#d9d9d9" stroke-width="1" />
<line x1="1182.4" y1="486.3" x2="1182.4" y2="705.0" stroke="#d9d9d9" stroke-width="1" />
<line x1="1210.4" y1="486.3" x2="1210.4" y2="705.0" stroke="#d9d9d9" stroke-width="1" />
<line x1="1238.4" y1="486.3" x2="1238.4" y2="705.0" stroke="#d9d9d9" stroke-width="1" />
<line x1="1266.3" y1="486.3" x2="1266.3" y2="705.0" stroke="#d9d9d9" stroke-width="1" />
<line x1="1294.3" y1="486.3" x2="1294.3" y2="705.0" stroke="#d9d9d9" stroke-width="1" />
<line x1="1014.6" y1="486.3" x2="1014.6" y2="702.0" stroke="#bfbfbf" stroke-width="1" />
<line x1="1014.6" y1="702.0" x2="1294.3" y2="702.0" stroke="#bfbfbf" stroke-width="1.2" />
<polyline points="1014.6,486.3 1294.3,486.3 1294.3,702.0" fill="none" stroke="#7f7f7f" stroke-width="1" />
<rect x="1022.0" y="500.0" width="55.0" height="20.0" fill="#fff" />
<rect x="1178.0" y="535.0" width="76.0" height="18.0" fill="#fff" />
<rect x="1211.0" y="582.0" width="70.0" height="18.0" fill="#fff" />
<text x="1005.3" y="706.1" font-size="11.3" text-anchor="end" fill="#000" >0</text>
<text x="1005.3" y="684.5" font-size="11.3" text-anchor="end" fill="#000" >20</text>
<text x="1005.3" y="663.0" font-size="11.3" text-anchor="end" fill="#000" >40</text>
<text x="1005.3" y="641.4" font-size="11.3" text-anchor="end" fill="#000" >60</text>
<text x="1005.3" y="619.8" font-size="11.3" text-anchor="end" fill="#000" >80</text>
<text x="1005.3" y="598.2" font-size="11.3" text-anchor="end" fill="#000" >100</text>
<text x="1005.3" y="576.7" font-size="11.3" text-anchor="end" fill="#000" >120</text>
<text x="1005.3" y="555.1" font-size="11.3" text-anchor="end" fill="#000" >140</text>
<text x="1005.3" y="533.5" font-size="11.3" text-anchor="end" fill="#000" >160</text>
<text x="1005.3" y="512.0" font-size="11.3" text-anchor="end" fill="#000" >180</text>
<text x="1005.3" y="490.4" font-size="11.3" text-anchor="end" fill="#000" >200</text>
<text x="1014.6" y="718.7" font-size="11.3" text-anchor="middle" fill="#000" >0</text>
<text x="1042.6" y="718.7" font-size="11.3" text-anchor="middle" fill="#000" >1</text>
<text x="1070.5" y="718.7" font-size="11.3" text-anchor="middle" fill="#000" >2</text>
<text x="1098.5" y="718.7" font-size="11.3" text-anchor="middle" fill="#000" >3</text>
<text x="1126.5" y="718.7" font-size="11.3" text-anchor="middle" fill="#000" >4</text>
<text x="1154.5" y="718.7" font-size="11.3" text-anchor="middle" fill="#000" >5</text>
<text x="1182.4" y="718.7" font-size="11.3" text-anchor="middle" fill="#000" >6</text>
<text x="1210.4" y="718.7" font-size="11.3" text-anchor="middle" fill="#000" >7</text>
<text x="1238.4" y="718.7" font-size="11.3" text-anchor="middle" fill="#000" >8</text>
<text x="1266.3" y="718.7" font-size="11.3" text-anchor="middle" fill="#000" >9</text>
<text x="1294.3" y="718.7" font-size="11.3" text-anchor="middle" fill="#000" >10</text>
<text x="1157.0" y="737.7" font-size="11.3" text-anchor="middle" fill="#000" >Strain, %</text>
<text transform="translate(977.5,587) rotate(-90)" font-size="11.3" text-anchor="middle" fill="#000">Stress, MPa</text>
<text x="1027" y="514.4" font-size="11.3" fill="#000" textLength="45" lengthAdjust="spacingAndGlyphs">T = 30 <tspan font-size="7.5" dy="-4">o</tspan><tspan dy="4">C</tspan></text>
<text x="1181.6" y="548.3" font-size="11.3" text-anchor="start" fill="#000" textLength="67.4" lengthAdjust="spacingAndGlyphs" >100% eutectic</text>
<text x="1214.7" y="595.4" font-size="11.3" text-anchor="start" fill="#000" textLength="61.8" lengthAdjust="spacingAndGlyphs" >50% eutectic</text>
<polyline points="1216.5,533.0 1216.3,532.6 1216.0,532.1 1215.8,531.4 1215.4,530.7 1215.1,529.9 1214.7,529.2 1214.3,528.4 1213.9,527.7 1213.4,527.0 1213.0,526.5 1212.5,526.0 1212.0,525.6 1211.5,525.2 1210.9,524.9 1210.3,524.6 1209.7,524.3 1209.2,524.1 1208.7,523.9 1208.3,523.7 1208.0,523.5" fill="none" stroke="#000" stroke-width="0.8" stroke-linecap="round"/>
<line x1="1208.0" y1="523.5" x2="1211.5" y2="523.5" stroke="#000" stroke-width="0.8" stroke-linecap="round"/>
<line x1="1208.0" y1="523.5" x2="1210.1" y2="526.3" stroke="#000" stroke-width="0.8" stroke-linecap="round"/>
<polyline points="1247.5,580.0 1247.4,579.5 1247.2,578.9 1247.0,578.1 1246.8,577.2 1246.5,576.3 1246.3,575.3 1246.0,574.4 1245.7,573.5 1245.3,572.7 1245.0,572.0 1244.6,571.4 1244.2,570.8 1243.7,570.3 1243.1,569.7 1242.6,569.2 1242.1,568.8 1241.6,568.4 1241.1,568.1 1240.8,567.8 1240.5,567.5" fill="none" stroke="#000" stroke-width="0.8" stroke-linecap="round"/>
<line x1="1240.5" y1="567.5" x2="1243.9" y2="568.4" stroke="#000" stroke-width="0.8" stroke-linecap="round"/>
<line x1="1240.5" y1="567.5" x2="1241.9" y2="570.7" stroke="#000" stroke-width="0.8" stroke-linecap="round"/>
<polyline points="1018.1,702.0 1018.4,698.8 1018.7,695.7 1019.0,692.8 1019.3,690.1 1019.5,687.5 1019.8,685.1 1020.1,682.7 1020.4,680.5 1020.7,678.4 1020.9,676.5 1021.2,674.6 1021.5,672.8 1021.8,671.1 1022.1,669.5 1022.3,668.0 1022.6,666.5 1022.9,665.1 1023.2,663.8 1023.5,662.6 1023.7,661.4 1024.0,660.3 1024.3,659.2 1024.6,658.1 1024.9,657.2 1025.1,656.2 1025.4,655.3 1025.7,654.5 1026.0,653.6 1026.3,652.9 1026.5,652.1 1026.8,651.4 1027.1,650.7 1027.4,650.0 1027.7,649.4 1027.9,648.8 1028.2,648.2 1028.5,647.6 1028.8,647.1 1029.1,646.5 1029.3,646.0 1032.1,641.8 1034.9,638.5 1037.7,635.9 1040.5,633.6 1043.3,631.5 1046.1,629.6 1048.9,627.8 1051.7,626.0 1054.5,624.3 1057.3,622.7 1060.1,621.1 1062.9,619.6 1065.7,618.1 1068.5,616.6 1071.3,615.2 1074.1,613.9 1076.9,612.5 1079.7,611.2 1082.5,609.9 1085.3,608.7 1088.1,607.5 1090.9,606.3 1093.7,605.2 1096.5,604.0 1099.3,602.9 1102.1,601.9 1104.9,600.8 1107.6,599.8 1110.4,598.8 1113.2,597.8 1116.0,596.8 1118.8,595.9 1121.6,595.0 1124.4,594.0 1127.2,593.2 1130.0,592.3 1132.8,591.4 1135.6,590.6 1138.4,589.7 1141.2,588.9 1144.0,588.1 1146.8,587.3 1149.6,586.5 1152.4,585.8 1155.2,585.0 1158.0,584.3 1160.8,583.5 1163.6,582.8 1166.4,582.1 1169.2,581.4 1172.0,580.7 1174.8,580.0 1177.6,579.3 1180.4,578.6 1183.2,578.0 1186.0,577.3 1188.8,576.6 1191.6,576.0 1194.4,575.4 1197.2,574.7 1200.0,574.1 1202.7,573.5 1205.5,572.8 1208.3,572.2 1211.1,571.6 1213.9,571.0 1216.7,570.4 1219.5,569.8 1222.3,569.2 1225.1,568.6 1227.9,568.1 1230.7,567.5 1233.5,566.9 1236.3,566.3 1239.1,565.8 1241.9,565.2 1244.7,564.6 1247.5,564.1 1250.3,563.5 1253.1,562.9 1255.9,562.4 1258.7,561.8 1261.5,561.3 1264.3,560.7 1267.1,560.2 1269.9,559.7 1272.7,559.1 1275.5,558.6 1278.3,558.0 1281.1,557.5 1282.3,557.3" fill="none" stroke="#5b9bd5" stroke-width="1.2" stroke-linejoin="round"/>
<polyline points="1016.5,702.0 1016.8,696.5 1017.0,691.7 1017.3,687.7 1017.6,684.2 1017.9,681.1 1018.2,678.5 1018.4,676.2 1018.7,674.1 1019.0,672.3 1019.3,670.6 1019.6,669.1 1019.8,667.8 1020.1,666.5 1020.4,665.3 1020.7,664.2 1021.0,663.2 1021.2,662.2 1021.5,661.2 1021.8,660.3 1022.1,659.4 1022.4,658.6 1022.6,657.8 1022.9,657.0 1023.2,656.2 1023.5,655.4 1023.8,654.6 1024.0,653.9 1024.3,653.1 1024.6,652.4 1024.9,651.7 1025.2,650.9 1025.4,650.2 1025.7,649.5 1026.0,648.8 1026.3,648.1 1026.6,647.4 1026.8,646.8 1027.1,646.1 1027.4,645.4 1027.7,644.7 1030.5,638.3 1033.3,632.1 1036.1,626.4 1038.9,620.9 1041.7,615.7 1044.5,610.8 1047.3,606.2 1050.1,601.8 1052.8,597.6 1055.6,593.7 1058.4,590.0 1061.2,586.4 1064.0,583.1 1066.8,579.9 1069.6,576.8 1072.4,573.9 1075.2,571.2 1078.0,568.6 1080.8,566.1 1083.6,563.8 1086.4,561.5 1089.2,559.4 1092.0,557.3 1094.8,555.4 1097.6,553.5 1100.4,551.7 1103.2,550.0 1106.0,548.4 1108.8,546.8 1111.6,545.3 1114.4,543.9 1117.2,542.5 1120.0,541.2 1122.8,539.9 1125.6,538.7 1128.4,537.5 1131.2,536.3 1134.0,535.2 1136.8,534.2 1139.6,533.1 1142.4,532.1 1145.1,531.2 1147.9,530.2 1150.7,529.3 1153.5,528.5 1156.3,527.6 1159.1,526.8 1161.9,525.9 1164.7,525.2 1167.5,524.4 1170.3,523.6 1173.1,522.9 1175.9,522.2 1178.7,521.5 1181.5,520.8 1184.3,520.1 1187.1,519.4 1189.9,518.8 1192.7,518.1 1195.5,517.5 1198.3,516.9 1201.1,516.2 1203.9,515.6 1206.7,515.0 1209.5,514.4 1212.3,513.9 1215.1,513.3 1217.9,512.7 1220.7,512.1 1223.5,511.6 1226.3,511.0 1229.1,510.5 1231.9,509.9 1234.7,509.4 1237.4,508.9 1240.2,508.3 1243.0,507.8 1245.8,507.3 1248.6,506.8 1251.4,506.2 1254.2,505.7 1257.0,505.2 1259.8,504.7 1262.6,504.2 1265.4,503.7 1268.2,503.2 1271.0,502.7 1273.8,502.2 1276.6,501.7 1279.4,501.2 1281.7,500.8" fill="none" stroke="#a5a5a5" stroke-width="1.3" stroke-linejoin="round"/>
<polyline points="1016.0,702.0 1016.3,697.7 1016.5,693.9 1016.8,690.3 1017.1,687.1 1017.4,684.2 1017.7,681.5 1017.9,679.0 1018.2,676.8 1018.5,674.7 1018.8,672.7 1019.1,671.0 1019.3,669.3 1019.6,667.8 1019.9,666.3 1020.2,665.0 1020.5,663.7 1020.7,662.5 1021.0,661.4 1021.3,660.3 1021.6,659.3 1021.9,658.4 1022.1,657.4 1022.4,656.6 1022.7,655.7 1023.0,654.9 1023.3,654.1 1023.5,653.4 1023.8,652.7 1024.1,651.9 1024.4,651.3 1024.6,650.6 1024.9,649.9 1025.2,649.3 1025.5,648.7 1025.8,648.0 1026.0,647.4 1026.3,646.8 1026.6,646.3 1026.9,645.7 1027.2,645.1 1030.0,639.8 1032.8,634.8 1035.6,630.1 1038.4,625.7 1041.2,621.4 1043.9,617.3 1046.7,613.4 1049.5,609.6 1052.3,606.0 1055.1,602.6 1057.9,599.3 1060.7,596.1 1063.5,593.1 1066.3,590.1 1069.1,587.3 1071.9,584.6 1074.7,582.0 1077.5,579.5 1080.3,577.1 1083.1,574.8 1085.9,572.6 1088.7,570.5 1091.5,568.4 1094.3,566.4 1097.1,564.5 1099.9,562.7 1102.7,560.9 1105.5,559.2 1108.3,557.5 1111.1,555.9 1113.9,554.3 1116.7,552.8 1119.5,551.4 1122.3,549.9 1125.1,548.6 1127.9,547.3 1130.7,546.0 1133.5,544.7 1136.2,543.5 1139.0,542.3 1141.8,541.2 1144.6,540.0 1147.4,538.9 1150.2,537.9 1153.0,536.8 1155.8,535.8 1158.6,534.9 1161.4,533.9 1164.2,532.9 1167.0,532.0 1169.8,531.1 1172.6,530.2 1175.4,529.4 1178.2,528.5 1181.0,527.7 1183.8,526.9 1186.6,526.1 1189.4,525.3 1192.2,524.5 1195.0,523.7 1197.8,523.0 1200.6,522.2 1203.4,521.5 1206.2,520.8 1209.0,520.1 1211.8,519.4 1214.6,518.7 1217.4,518.0 1220.2,517.3 1223.0,516.7 1225.8,516.0 1228.5,515.4 1231.3,514.7 1234.1,514.1 1236.9,513.5 1239.7,512.8 1242.5,512.2 1245.3,511.6 1248.1,511.0 1250.9,510.4 1253.7,509.8 1256.5,509.2 1259.3,508.6 1262.1,508.0 1264.9,507.4 1267.7,506.8 1270.5,506.2 1273.3,505.7 1276.1,505.1 1278.9,504.5 1281.7,504.0 1281.7,504.0" fill="none" stroke="#e8201c" stroke-width="2.0" stroke-linejoin="round"/>
<polyline points="1016.0,702.0 1016.3,697.6 1016.6,693.8 1016.8,690.5 1017.1,687.6 1017.4,685.0 1017.7,682.7 1018.0,680.6 1018.2,678.6 1018.5,676.9 1018.8,675.3 1019.1,673.8 1019.4,672.3 1019.6,671.0 1019.9,669.7 1020.2,668.4 1020.5,667.3 1020.8,666.1 1021.0,665.0 1021.3,663.9 1021.6,662.8 1021.9,661.8 1022.2,660.8 1022.4,659.7 1022.7,658.7 1023.0,657.8 1023.3,656.8 1023.5,655.8 1023.8,654.9 1024.1,653.9 1024.4,653.0 1024.7,652.1 1024.9,651.2 1025.2,650.3 1025.5,649.4 1025.8,648.5 1026.1,647.6 1026.3,646.7 1026.6,645.9 1026.9,645.0 1027.2,644.1 1030.0,635.9 1032.8,628.2 1035.6,621.1 1038.4,614.4 1041.2,608.2 1044.0,602.4 1046.8,596.9 1049.6,591.9 1052.4,587.1 1055.2,582.7 1058.0,578.6 1060.7,574.7 1063.5,571.0 1066.3,567.6 1069.1,564.4 1071.9,561.4 1074.7,558.6 1077.5,555.9 1080.3,553.4 1083.1,551.1 1085.9,548.9 1088.7,546.8 1091.5,544.8 1094.3,542.9 1097.1,541.1 1099.9,539.5 1102.7,537.9 1105.5,536.4 1108.3,534.9 1111.1,533.5 1113.9,532.2 1116.7,531.0 1119.5,529.8 1122.3,528.6 1125.1,527.5 1127.9,526.5 1130.7,525.5 1133.5,524.5 1136.3,523.5 1139.1,522.6 1141.9,521.8 1144.7,520.9 1147.5,520.1 1150.3,519.3 1153.1,518.5 1155.8,517.7 1158.6,517.0 1161.4,516.3 1164.2,515.5 1167.0,514.9 1169.8,514.2 1172.6,513.5 1175.4,512.9 1178.2,512.2 1181.0,511.6 1183.8,511.0 1186.6,510.4 1189.4,509.7 1192.2,509.2 1195.0,508.6 1197.8,508.0 1200.6,507.4 1203.4,506.8 1206.2,506.3 1209.0,505.7 1211.8,505.1 1214.6,504.6 1217.4,504.0 1220.2,503.5 1223.0,503.0 1225.8,502.4 1228.6,501.9 1231.4,501.4 1234.2,500.8 1237.0,500.3 1239.8,499.8 1242.6,499.3 1245.4,498.7 1248.1,498.2 1250.9,497.7 1253.7,497.2 1256.5,496.7 1259.3,496.1 1262.1,495.6 1264.9,495.1 1267.7,494.6 1270.5,494.1 1273.3,493.6 1276.1,493.1 1278.9,492.6 1281.7,492.1 1283.1,491.8" fill="none" stroke="#7030a0" stroke-width="1.7" stroke-linejoin="round"/>
<rect x="1150.3" y="606.5" width="85.2" height="68.7" fill="#fff" stroke="#7f7f7f" stroke-width="1"/>
<line x1="1166.9" y1="614.7" x2="1178.9" y2="614.7" stroke="#5b9bd5" stroke-width="1.2" />
<text x="1179.3" y="618.8" font-size="11.3" text-anchor="start" fill="#000" >Al-5Ce</text>
<line x1="1166.9" y1="632.0" x2="1178.9" y2="632.0" stroke="#e8201c" stroke-width="2.0" />
<text x="1179.3" y="636.1" font-size="11.3" text-anchor="start" fill="#000" >Al-10Ce</text>
<line x1="1166.9" y1="649.4" x2="1178.9" y2="649.4" stroke="#a5a5a5" stroke-width="1.3" />
<text x="1179.3" y="653.5" font-size="11.3" text-anchor="start" fill="#000" >Al-15Ce</text>
<line x1="1166.9" y1="666.7" x2="1178.9" y2="666.7" stroke="#7030a0" stroke-width="1.7" />
<text x="1179.3" y="670.8" font-size="11.3" text-anchor="start" fill="#000" >Al-20Ce</text>
</g>
<defs><clipPath id="msclip"><rect x="406.8" y="491.8" width="246.0" height="246.6"/></clipPath>
<filter id="blur1" x="-5%" y="-5%" width="110%" height="110%"><feGaussianBlur stdDeviation="0.95"/></filter>
<filter id="blur3" x="-20%" y="-20%" width="140%" height="140%"><feGaussianBlur stdDeviation="6"/></filter>
<linearGradient id="msbg" x1="0" y1="0" x2="1" y2="1"><stop offset="0" stop-color="#c8c8c8"/><stop offset="0.5" stop-color="#d2d2d2"/><stop offset="1" stop-color="#d8d8d8"/></linearGradient>
</defs>
<g clip-path="url(#msclip)">
<rect x="406.8" y="491.8" width="246.0" height="246.6" fill="url(#msbg)" />
<g filter="url(#blur3)"><polygon points="400,612 430,626 455,642 480,660 505,684 522,705 532,722 534,745 400,745" fill="#e6e6e6"/><polygon points="400,650 440,665 470,690 490,745 400,745" fill="#efefef"/><circle cx="428" cy="695" r="26" fill="#f5f5f5"/></g>
<g filter="url(#blur3)"><ellipse cx="416" cy="496" rx="14" ry="7" fill="#a4a4a4"/></g>
<g filter="url(#blur3)" opacity="0.6"><circle cx="440" cy="560" r="18" fill="#dedede"/><circle cx="600" cy="600" r="22" fill="#dcdcdc"/><circle cx="640" cy="650" r="18" fill="#d8d8d8"/><circle cx="560" cy="640" r="20" fill="#d6d6d6"/></g>
<g filter="url(#blur1)">
<path d="M407.9,600.9 L410.4,600.2 L413.9,599.3 L418.0,598.3 L422.4,597.2 L426.6,596.3 L430.7,595.5 L435.0,594.7 L439.4,594.0 L443.8,593.3 L448.2,592.5 L452.7,591.6 L457.4,590.7 L462.0,589.7 L466.2,588.8 L469.8,588.2 L472.7,587.9 L475.1,587.8 L477.1,587.8 L478.7,587.9 L479.9,587.9" fill="none" stroke="#484848" stroke-width="14.1" stroke-linecap="round" stroke-linejoin="round" opacity="0.85"/>
<path d="M498.6,548.3 L500.8,547.7 L503.8,546.8 L507.4,545.7 L511.0,544.6 L514.4,543.6 L517.8,542.5 L521.4,541.2 L524.9,540.0 L527.9,539.0 L530.0,538.2" fill="none" stroke="#484848" stroke-width="12.1" stroke-linecap="round" stroke-linejoin="round" opacity="0.85"/>
<path d="M505.8,590.1 L530.0,591.5" fill="none" stroke="#484848" stroke-width="9.1" stroke-linecap="round" stroke-linejoin="round" opacity="0.85"/>
<path d="M485.6,577.1 L486.9,577.0 L488.7,576.7 L490.7,576.5 L492.6,576.3 L494.3,576.4 L495.6,576.8 L496.8,577.4 L497.8,578.2 L498.7,578.8 L499.3,579.3" fill="none" stroke="#484848" stroke-width="10.1" stroke-linecap="round" stroke-linejoin="round" opacity="0.85"/>
<path d="M452.5,521.0 L453.5,520.6 L455.0,520.1 L456.6,519.5 L458.3,519.0 L459.7,518.8 L461.1,518.9 L462.4,519.2 L463.7,519.6 L464.7,520.0 L465.5,520.2" fill="none" stroke="#484848" stroke-width="8.1" stroke-linecap="round" stroke-linejoin="round" opacity="0.85"/>
<path d="M520.2,552.2 L521.2,553.2 L522.6,554.5 L524.3,556.1 L525.9,557.7 L527.4,559.1 L528.7,560.6 L530.1,562.1 L531.3,563.5 L532.4,564.7 L533.2,565.6" fill="none" stroke="#484848" stroke-width="9.7" stroke-linecap="round" stroke-linejoin="round" opacity="0.85"/>
<path d="M528.0,533.5 L528.9,533.3 L530.1,532.9 L531.6,532.6 L533.1,532.1 L534.5,531.8 L535.9,531.3 L537.4,530.9 L538.8,530.4 L540.1,530.0 L541.0,529.7" fill="none" stroke="#555" stroke-width="11.1" stroke-linecap="round" stroke-linejoin="round" opacity="0.8"/>
<path d="M640.3,536.1 L649.0,541.8" fill="none" stroke="#555" stroke-width="10.1" stroke-linecap="round" stroke-linejoin="round" opacity="0.8"/>
<path d="M407.6,512.3 L408.6,511.6 L410.0,510.6 L411.6,509.4 L413.4,508.2 L415.1,507.0 L416.7,505.9 L418.5,504.9 L420.3,503.9 L422.0,502.7 L423.7,501.5 L425.5,500.0 L427.3,498.3 L429.1,496.6 L430.6,495.1 L431.6,494.0" fill="none" stroke="#0c0c0c" stroke-width="5.6" stroke-linecap="round" stroke-linejoin="round" opacity="1.0"/>
<path d="M407.6,529.6 L408.6,528.9 L410.1,527.9 L411.7,526.8 L413.5,525.7 L415.1,524.6 L416.5,523.5 L418.0,522.5 L419.4,521.4 L420.8,520.4 L422.3,519.5 L423.8,518.7 L425.5,517.8 L427.1,517.0 L428.5,516.4 L429.5,515.9" fill="none" stroke="#0c0c0c" stroke-width="5.2" stroke-linecap="round" stroke-linejoin="round" opacity="1.0"/>
<path d="M424.4,528.6 L433.1,526.7" fill="none" stroke="#0c0c0c" stroke-width="6.9" stroke-linecap="round" stroke-linejoin="round" opacity="1.0"/>
<path d="M420.6,543.6 L428.8,537.8" fill="none" stroke="#0c0c0c" stroke-width="7.3" stroke-linecap="round" stroke-linejoin="round" opacity="1.0"/>
<path d="M445.0,493.6 L445.4,495.3 L445.8,497.6 L446.3,500.4 L446.9,503.2 L447.5,505.8 L448.1,508.2 L448.7,510.6 L449.4,512.9 L450.1,515.1 L450.8,517.4 L451.5,519.5 L452.1,521.6 L452.8,523.7 L453.5,525.7 L454.3,527.7 L455.1,529.8 L455.9,531.9 L456.8,533.9 L457.7,535.8 L458.6,537.5 L459.5,539.0 L460.5,540.3 L461.4,541.5 L462.4,542.6 L463.3,543.6 L464.3,544.6 L465.3,545.5 L466.2,546.4 L467.1,547.1 L467.6,547.6" fill="none" stroke="#0c0c0c" stroke-width="9.7" stroke-linecap="round" stroke-linejoin="round" opacity="1.0"/>
<path d="M445.6,504.4 L446.5,505.1 L447.8,506.0 L449.4,507.0 L451.0,508.2 L452.5,509.4 L454.1,510.7 L455.7,512.1 L457.4,513.6 L459.0,515.1 L460.4,516.6 L461.8,518.3 L463.0,520.0 L464.1,521.7 L465.2,523.3 L466.2,524.6 L467.2,525.6 L468.2,526.3 L469.2,526.9 L470.0,527.4 L470.5,527.7" fill="none" stroke="#0c0c0c" stroke-width="6.5" stroke-linecap="round" stroke-linejoin="round" opacity="1.0"/>
<path d="M439.9,533.2 L440.3,534.6 L441.0,536.6 L441.8,538.9 L442.8,541.2 L443.9,543.3 L445.1,545.1 L446.5,547.0 L448.1,548.7 L449.6,550.4 L451.1,551.9 L452.6,553.4 L454.3,554.7 L455.9,555.9 L457.3,556.9 L458.3,557.7" fill="none" stroke="#0c0c0c" stroke-width="5.2" stroke-linecap="round" stroke-linejoin="round" opacity="1.0"/>
<circle cx="431.2" cy="553.7" r="4.2" fill="#0c0c0c" opacity="1.0"/>
<path d="M436.0,562.0 L436.7,562.7 L437.7,563.8 L439.0,565.0 L440.3,566.1 L441.7,567.0 L443.2,567.7 L444.8,568.2 L446.4,568.6 L448.1,569.0 L449.6,569.5 L451.2,570.0 L452.9,570.6 L454.5,571.2 L455.9,571.7 L456.8,572.1" fill="none" stroke="#0c0c0c" stroke-width="6.9" stroke-linecap="round" stroke-linejoin="round" opacity="1.0"/>
<path d="M408.2,545.4 L408.9,546.3 L410.0,547.5 L411.2,549.0 L412.5,550.6 L413.6,552.2 L414.8,554.1 L416.1,556.4 L417.3,558.6 L418.4,560.6 L419.1,562.0" fill="none" stroke="#0c0c0c" stroke-width="5.6" stroke-linecap="round" stroke-linejoin="round" opacity="1.0"/>
<circle cx="412.2" cy="574.2" r="3.8" fill="#0c0c0c" opacity="1.0"/>
<path d="M412.9,586.5 L418.7,586.8" fill="none" stroke="#0c0c0c" stroke-width="6.0" stroke-linecap="round" stroke-linejoin="round" opacity="1.0"/>
<path d="M421.1,570.6 L422.3,571.3 L423.9,572.1 L425.8,573.2 L427.7,574.2 L429.5,575.3 L431.2,576.3 L432.9,577.4 L434.6,578.4 L436.0,579.4 L437.0,580.0" fill="none" stroke="#0c0c0c" stroke-width="5.2" stroke-linecap="round" stroke-linejoin="round" opacity="1.0"/>
<path d="M474.8,588.2 L481.3,590.8" fill="none" stroke="#0c0c0c" stroke-width="9.3" stroke-linecap="round" stroke-linejoin="round" opacity="1.0"/>
<path d="M458.6,553.7 L460.1,554.5 L462.2,555.7 L464.6,557.1 L467.3,558.4 L469.8,559.4 L472.3,560.1 L474.9,560.7 L477.6,561.1 L480.2,561.5 L482.8,562.0 L485.2,562.5 L487.5,563.0 L489.7,563.5 L492.0,564.1 L494.3,564.9 L496.7,565.9 L499.1,567.0 L501.5,568.3 L503.8,569.5 L505.8,570.6 L507.7,571.7 L509.5,572.8 L511.0,573.8 L512.3,574.6 L513.3,575.3" fill="none" stroke="#0c0c0c" stroke-width="6.9" stroke-linecap="round" stroke-linejoin="round" opacity="1.0"/>
<path d="M468.7,569.9 L474.4,578.1" fill="none" stroke="#0c0c0c" stroke-width="4.4" stroke-linecap="round" stroke-linejoin="round" opacity="1.0"/>
<g stroke="#0c0c0c" stroke-linecap="round" opacity="1.0"><line x1="472.7" y1="492.9" x2="473.7" y2="494.4" stroke-width="6.4"/><line x1="473.7" y1="494.4" x2="475.0" y2="496.5" stroke-width="6.3"/><line x1="475.0" y1="496.5" x2="476.7" y2="499.0" stroke-width="6.2"/><line x1="476.7" y1="499.0" x2="478.3" y2="501.7" stroke-width="6.2"/><line x1="478.3" y1="501.7" x2="479.9" y2="504.4" stroke-width="6.1"/><line x1="479.9" y1="504.4" x2="481.3" y2="507.1" stroke-width="6.0"/><line x1="481.3" y1="507.1" x2="482.8" y2="510.0" stroke-width="5.9"/><line x1="482.8" y1="510.0" x2="484.2" y2="512.9" stroke-width="5.8"/><line x1="484.2" y1="512.9" x2="485.6" y2="515.9" stroke-width="5.8"/><line x1="485.6" y1="515.9" x2="487.1" y2="518.8" stroke-width="5.7"/><line x1="487.1" y1="518.8" x2="488.5" y2="521.7" stroke-width="5.6"/><line x1="488.5" y1="521.7" x2="490.0" y2="524.6" stroke-width="5.5"/><line x1="490.0" y1="524.6" x2="491.5" y2="527.4" stroke-width="5.4"/><line x1="491.5" y1="527.4" x2="493.0" y2="530.3" stroke-width="5.4"/><line x1="493.0" y1="530.3" x2="494.6" y2="533.2" stroke-width="5.3"/><line x1="494.6" y1="533.2" x2="496.3" y2="536.1" stroke-width="5.2"/><line x1="496.3" y1="536.1" x2="498.0" y2="539.0" stroke-width="5.1"/><line x1="498.0" y1="539.0" x2="499.8" y2="541.8" stroke-width="5.0"/><line x1="499.8" y1="541.8" x2="501.6" y2="544.7" stroke-width="5.0"/><line x1="501.6" y1="544.7" x2="503.2" y2="547.6" stroke-width="4.9"/><line x1="503.2" y1="547.6" x2="504.9" y2="550.7" stroke-width="4.8"/><line x1="504.9" y1="550.7" x2="506.5" y2="554.1" stroke-width="4.7"/><line x1="506.5" y1="554.1" x2="508.1" y2="557.3" stroke-width="4.6"/><line x1="508.1" y1="557.3" x2="509.5" y2="560.0" stroke-width="4.6"/><line x1="509.5" y1="560.0" x2="510.4" y2="562.0" stroke-width="4.5"/></g>
<g stroke="#0c0c0c" stroke-linecap="round" opacity="1.0"><line x1="488.8" y1="492.9" x2="489.8" y2="494.9" stroke-width="6.4"/><line x1="489.8" y1="494.9" x2="491.2" y2="497.7" stroke-width="6.4"/><line x1="491.2" y1="497.7" x2="492.8" y2="501.0" stroke-width="6.3"/><line x1="492.8" y1="501.0" x2="494.5" y2="504.4" stroke-width="6.2"/><line x1="494.5" y1="504.4" x2="496.0" y2="507.3" stroke-width="6.1"/><line x1="496.0" y1="507.3" x2="497.5" y2="509.8" stroke-width="6.1"/><line x1="497.5" y1="509.8" x2="499.0" y2="512.1" stroke-width="6.0"/><line x1="499.0" y1="512.1" x2="500.5" y2="514.3" stroke-width="5.9"/><line x1="500.5" y1="514.3" x2="502.0" y2="516.5" stroke-width="5.9"/><line x1="502.0" y1="516.5" x2="503.2" y2="518.8" stroke-width="5.8"/><line x1="503.2" y1="518.8" x2="504.4" y2="521.2" stroke-width="5.7"/><line x1="504.4" y1="521.2" x2="505.5" y2="523.6" stroke-width="5.7"/><line x1="505.5" y1="523.6" x2="506.5" y2="526.0" stroke-width="5.6"/><line x1="506.5" y1="526.0" x2="507.2" y2="528.3" stroke-width="5.5"/><line x1="507.2" y1="528.3" x2="507.5" y2="530.3" stroke-width="5.5"/><line x1="507.5" y1="530.3" x2="507.5" y2="532.3" stroke-width="5.4"/><line x1="507.5" y1="532.3" x2="507.1" y2="534.2" stroke-width="5.3"/><line x1="507.1" y1="534.2" x2="506.4" y2="535.9" stroke-width="5.3"/><line x1="506.4" y1="535.9" x2="505.6" y2="537.1" stroke-width="5.2"/><line x1="505.6" y1="537.1" x2="504.7" y2="537.5" stroke-width="5.1"/><line x1="504.7" y1="537.5" x2="503.5" y2="537.1" stroke-width="5.1"/><line x1="503.5" y1="537.1" x2="502.2" y2="536.0" stroke-width="5.0"/><line x1="502.2" y1="536.0" x2="500.7" y2="534.4" stroke-width="4.9"/><line x1="500.7" y1="534.4" x2="499.3" y2="532.5" stroke-width="4.9"/><line x1="499.3" y1="532.5" x2="497.9" y2="530.6" stroke-width="4.8"/><line x1="497.9" y1="530.6" x2="496.5" y2="528.5" stroke-width="4.7"/><line x1="496.5" y1="528.5" x2="495.1" y2="525.9" stroke-width="4.7"/><line x1="495.1" y1="525.9" x2="493.7" y2="523.4" stroke-width="4.6"/><line x1="493.7" y1="523.4" x2="492.5" y2="521.1" stroke-width="4.5"/><line x1="492.5" y1="521.1" x2="491.7" y2="519.5" stroke-width="4.5"/></g>
<g stroke="#0c0c0c" stroke-linecap="round" opacity="1.0"><line x1="506.1" y1="492.9" x2="506.9" y2="494.9" stroke-width="6.4"/><line x1="506.9" y1="494.9" x2="508.0" y2="497.7" stroke-width="6.2"/><line x1="508.0" y1="497.7" x2="509.3" y2="501.0" stroke-width="6.0"/><line x1="509.3" y1="501.0" x2="510.6" y2="504.4" stroke-width="5.9"/><line x1="510.6" y1="504.4" x2="511.9" y2="507.3" stroke-width="5.7"/><line x1="511.9" y1="507.3" x2="513.1" y2="509.8" stroke-width="5.6"/><line x1="513.1" y1="509.8" x2="514.3" y2="512.2" stroke-width="5.4"/><line x1="514.3" y1="512.2" x2="515.5" y2="514.4" stroke-width="5.2"/><line x1="515.5" y1="514.4" x2="516.7" y2="516.6" stroke-width="5.1"/><line x1="516.7" y1="516.6" x2="517.6" y2="518.8" stroke-width="4.9"/><line x1="517.6" y1="518.8" x2="518.4" y2="521.1" stroke-width="4.8"/><line x1="518.4" y1="521.1" x2="519.0" y2="523.4" stroke-width="4.6"/><line x1="519.0" y1="523.4" x2="519.5" y2="525.6" stroke-width="4.4"/><line x1="519.5" y1="525.6" x2="519.9" y2="527.5" stroke-width="4.3"/><line x1="519.9" y1="527.5" x2="520.2" y2="528.9" stroke-width="4.1"/></g>
<g stroke="#0c0c0c" stroke-linecap="round" opacity="1.0"><line x1="520.5" y1="492.9" x2="521.1" y2="494.4" stroke-width="5.9"/><line x1="521.1" y1="494.4" x2="521.9" y2="496.5" stroke-width="5.7"/><line x1="521.9" y1="496.5" x2="522.8" y2="499.0" stroke-width="5.4"/><line x1="522.8" y1="499.0" x2="523.7" y2="501.7" stroke-width="5.2"/><line x1="523.7" y1="501.7" x2="524.5" y2="504.4" stroke-width="5.0"/><line x1="524.5" y1="504.4" x2="525.2" y2="507.3" stroke-width="4.7"/><line x1="525.2" y1="507.3" x2="525.9" y2="510.6" stroke-width="4.5"/><line x1="525.9" y1="510.6" x2="526.5" y2="513.9" stroke-width="4.2"/><line x1="526.5" y1="513.9" x2="527.0" y2="516.8" stroke-width="4.0"/><line x1="527.0" y1="516.8" x2="527.4" y2="518.8" stroke-width="3.8"/></g>
<path d="M498.9,590.1 L499.2,591.3 L499.5,592.9 L500.0,594.8 L500.4,597.0 L500.8,599.4 L501.0,602.4 L501.3,606.0 L501.5,609.6 L501.7,612.8 L501.8,615.0" fill="none" stroke="#0c0c0c" stroke-width="6.9" stroke-linecap="round" stroke-linejoin="round" opacity="1.0"/>
<path d="M516.2,602.3 L516.8,603.3 L517.6,604.8 L518.6,606.4 L519.6,608.1 L520.5,609.5 L521.4,610.8 L522.4,612.1 L523.4,613.3 L524.2,614.3 L524.8,615.0" fill="none" stroke="#0c0c0c" stroke-width="5.6" stroke-linecap="round" stroke-linejoin="round" opacity="1.0"/>
<path d="M429.8,612.7 L448.2,610.7" fill="none" stroke="#0c0c0c" stroke-width="5.6" stroke-linecap="round" stroke-linejoin="round" opacity="1.0"/>
<path d="M457.1,609.8 L465.5,615.0" fill="none" stroke="#0c0c0c" stroke-width="4.8" stroke-linecap="round" stroke-linejoin="round" opacity="1.0"/>
<path d="M467.2,604.1 L468.6,604.4 L470.5,604.9 L472.7,605.5 L475.0,606.2 L477.0,606.9 L478.9,607.8 L481.0,608.8 L482.9,609.8 L484.5,610.6 L485.6,611.3" fill="none" stroke="#0c0c0c" stroke-width="5.6" stroke-linecap="round" stroke-linejoin="round" opacity="1.0"/>
<path d="M519.1,559.1 L519.2,560.8 L519.3,563.2 L519.5,565.9 L519.8,568.5 L520.2,570.6 L520.8,572.3 L521.5,573.6 L522.2,574.8 L522.9,575.7 L523.4,576.4" fill="none" stroke="#0c0c0c" stroke-width="6.0" stroke-linecap="round" stroke-linejoin="round" opacity="1.0"/>
<path d="M407.2,597.3 L410.8,603.8" fill="none" stroke="#0c0c0c" stroke-width="6.0" stroke-linecap="round" stroke-linejoin="round" opacity="1.0"/>
<g stroke="#0c0c0c" stroke-linecap="round" opacity="1.0"><line x1="534.5" y1="492.9" x2="534.9" y2="494.3" stroke-width="6.3"/><line x1="534.9" y1="494.3" x2="535.5" y2="496.3" stroke-width="6.0"/><line x1="535.5" y1="496.3" x2="536.1" y2="498.5" stroke-width="5.7"/><line x1="536.1" y1="498.5" x2="536.8" y2="500.9" stroke-width="5.5"/><line x1="536.8" y1="500.9" x2="537.4" y2="503.0" stroke-width="5.2"/><line x1="537.4" y1="503.0" x2="537.9" y2="504.9" stroke-width="4.9"/><line x1="537.9" y1="504.9" x2="538.4" y2="506.9" stroke-width="4.6"/><line x1="538.4" y1="506.9" x2="538.8" y2="508.8" stroke-width="4.3"/><line x1="538.8" y1="508.8" x2="539.2" y2="510.4" stroke-width="4.1"/><line x1="539.2" y1="510.4" x2="539.5" y2="511.6" stroke-width="3.8"/></g>
<g stroke="#0c0c0c" stroke-linecap="round" opacity="1.0"><line x1="543.1" y1="492.9" x2="543.6" y2="494.4" stroke-width="6.8"/><line x1="543.6" y1="494.4" x2="544.2" y2="496.5" stroke-width="6.7"/><line x1="544.2" y1="496.5" x2="545.0" y2="499.0" stroke-width="6.6"/><line x1="545.0" y1="499.0" x2="545.8" y2="501.7" stroke-width="6.5"/><line x1="545.8" y1="501.7" x2="546.7" y2="504.4" stroke-width="6.4"/><line x1="546.7" y1="504.4" x2="547.6" y2="507.2" stroke-width="6.3"/><line x1="547.6" y1="507.2" x2="548.6" y2="510.2" stroke-width="6.2"/><line x1="548.6" y1="510.2" x2="549.7" y2="513.3" stroke-width="6.1"/><line x1="549.7" y1="513.3" x2="550.7" y2="516.2" stroke-width="6.0"/><line x1="550.7" y1="516.2" x2="551.8" y2="518.8" stroke-width="5.9"/><line x1="551.8" y1="518.8" x2="552.8" y2="520.9" stroke-width="5.8"/><line x1="552.8" y1="520.9" x2="553.9" y2="522.7" stroke-width="5.7"/><line x1="553.9" y1="522.7" x2="555.0" y2="524.4" stroke-width="5.6"/><line x1="555.0" y1="524.4" x2="556.0" y2="526.0" stroke-width="5.5"/><line x1="556.0" y1="526.0" x2="556.8" y2="527.7" stroke-width="5.4"/><line x1="556.8" y1="527.7" x2="557.4" y2="529.8" stroke-width="5.3"/><line x1="557.4" y1="529.8" x2="558.0" y2="532.0" stroke-width="5.2"/><line x1="558.0" y1="532.0" x2="558.4" y2="534.3" stroke-width="5.1"/><line x1="558.4" y1="534.3" x2="558.7" y2="536.2" stroke-width="5.0"/><line x1="558.7" y1="536.2" x2="559.0" y2="537.5" stroke-width="4.9"/></g>
<path d="M557.5,533.2 L559.0,546.2" fill="none" stroke="#0c0c0c" stroke-width="8.1" stroke-linecap="round" stroke-linejoin="round" opacity="1.0"/>
<g stroke="#0c0c0c" stroke-linecap="round" opacity="1.0"><line x1="553.2" y1="492.9" x2="553.7" y2="494.0" stroke-width="6.8"/><line x1="553.7" y1="494.0" x2="554.3" y2="495.6" stroke-width="6.7"/><line x1="554.3" y1="495.6" x2="555.1" y2="497.5" stroke-width="6.6"/><line x1="555.1" y1="497.5" x2="555.9" y2="499.6" stroke-width="6.5"/><line x1="555.9" y1="499.6" x2="556.8" y2="501.5" stroke-width="6.3"/><line x1="556.8" y1="501.5" x2="557.7" y2="503.4" stroke-width="6.2"/><line x1="557.7" y1="503.4" x2="558.8" y2="505.4" stroke-width="6.1"/><line x1="558.8" y1="505.4" x2="559.9" y2="507.4" stroke-width="6.0"/><line x1="559.9" y1="507.4" x2="560.9" y2="509.5" stroke-width="5.9"/><line x1="560.9" y1="509.5" x2="561.8" y2="511.6" stroke-width="5.8"/><line x1="561.8" y1="511.6" x2="562.7" y2="513.8" stroke-width="5.7"/><line x1="562.7" y1="513.8" x2="563.4" y2="516.2" stroke-width="5.6"/><line x1="563.4" y1="516.2" x2="564.1" y2="518.5" stroke-width="5.4"/><line x1="564.1" y1="518.5" x2="564.8" y2="520.9" stroke-width="5.3"/><line x1="564.8" y1="520.9" x2="565.4" y2="523.1" stroke-width="5.2"/><line x1="565.4" y1="523.1" x2="566.1" y2="525.2" stroke-width="5.1"/><line x1="566.1" y1="525.2" x2="566.7" y2="527.3" stroke-width="5.0"/><line x1="566.7" y1="527.3" x2="567.3" y2="529.3" stroke-width="4.9"/><line x1="567.3" y1="529.3" x2="567.8" y2="531.3" stroke-width="4.8"/><line x1="567.8" y1="531.3" x2="568.3" y2="533.2" stroke-width="4.7"/><line x1="568.3" y1="533.2" x2="568.7" y2="535.2" stroke-width="4.5"/><line x1="568.7" y1="535.2" x2="569.1" y2="537.2" stroke-width="4.4"/><line x1="569.1" y1="537.2" x2="569.4" y2="539.1" stroke-width="4.3"/><line x1="569.4" y1="539.1" x2="569.6" y2="540.7" stroke-width="4.2"/><line x1="569.6" y1="540.7" x2="569.8" y2="541.8" stroke-width="4.1"/></g>
<g stroke="#0c0c0c" stroke-linecap="round" opacity="1.0"><line x1="563.3" y1="492.9" x2="563.7" y2="494.0" stroke-width="6.4"/><line x1="563.7" y1="494.0" x2="564.2" y2="495.6" stroke-width="6.3"/><line x1="564.2" y1="495.6" x2="564.8" y2="497.5" stroke-width="6.2"/><line x1="564.8" y1="497.5" x2="565.5" y2="499.6" stroke-width="6.1"/><line x1="565.5" y1="499.6" x2="566.2" y2="501.5" stroke-width="6.0"/><line x1="566.2" y1="501.5" x2="566.8" y2="503.4" stroke-width="5.9"/><line x1="566.8" y1="503.4" x2="567.6" y2="505.4" stroke-width="5.8"/><line x1="567.6" y1="505.4" x2="568.3" y2="507.4" stroke-width="5.7"/><line x1="568.3" y1="507.4" x2="569.1" y2="509.5" stroke-width="5.6"/><line x1="569.1" y1="509.5" x2="569.8" y2="511.6" stroke-width="5.5"/><line x1="569.8" y1="511.6" x2="570.4" y2="513.8" stroke-width="5.4"/><line x1="570.4" y1="513.8" x2="571.0" y2="516.0" stroke-width="5.3"/><line x1="571.0" y1="516.0" x2="571.5" y2="518.3" stroke-width="5.2"/><line x1="571.5" y1="518.3" x2="572.1" y2="520.7" stroke-width="5.1"/><line x1="572.1" y1="520.7" x2="572.6" y2="523.1" stroke-width="5.0"/><line x1="572.6" y1="523.1" x2="573.2" y2="525.7" stroke-width="5.0"/><line x1="573.2" y1="525.7" x2="573.8" y2="528.4" stroke-width="4.9"/><line x1="573.8" y1="528.4" x2="574.4" y2="531.1" stroke-width="4.8"/><line x1="574.4" y1="531.1" x2="574.9" y2="533.7" stroke-width="4.7"/><line x1="574.9" y1="533.7" x2="575.5" y2="536.1" stroke-width="4.6"/><line x1="575.5" y1="536.1" x2="576.1" y2="538.2" stroke-width="4.5"/><line x1="576.1" y1="538.2" x2="576.8" y2="540.3" stroke-width="4.4"/><line x1="576.8" y1="540.3" x2="577.5" y2="542.1" stroke-width="4.3"/><line x1="577.5" y1="542.1" x2="578.0" y2="543.6" stroke-width="4.2"/><line x1="578.0" y1="543.6" x2="578.4" y2="544.7" stroke-width="4.1"/></g>
<g stroke="#0c0c0c" stroke-linecap="round" opacity="1.0"><line x1="571.2" y1="492.9" x2="571.8" y2="494.4" stroke-width="6.8"/><line x1="571.8" y1="494.4" x2="572.6" y2="496.7" stroke-width="6.7"/><line x1="572.6" y1="496.7" x2="573.6" y2="499.2" stroke-width="6.7"/><line x1="573.6" y1="499.2" x2="574.6" y2="501.9" stroke-width="6.6"/><line x1="574.6" y1="501.9" x2="575.5" y2="504.4" stroke-width="6.5"/><line x1="575.5" y1="504.4" x2="576.4" y2="506.7" stroke-width="6.4"/><line x1="576.4" y1="506.7" x2="577.2" y2="509.0" stroke-width="6.3"/><line x1="577.2" y1="509.0" x2="578.1" y2="511.3" stroke-width="6.2"/><line x1="578.1" y1="511.3" x2="579.0" y2="513.6" stroke-width="6.2"/><line x1="579.0" y1="513.6" x2="579.8" y2="515.9" stroke-width="6.1"/><line x1="579.8" y1="515.9" x2="580.7" y2="518.2" stroke-width="6.0"/><line x1="580.7" y1="518.2" x2="581.6" y2="520.5" stroke-width="5.9"/><line x1="581.6" y1="520.5" x2="582.4" y2="522.8" stroke-width="5.8"/><line x1="582.4" y1="522.8" x2="583.3" y2="525.1" stroke-width="5.8"/><line x1="583.3" y1="525.1" x2="584.2" y2="527.4" stroke-width="5.7"/><line x1="584.2" y1="527.4" x2="585.0" y2="529.8" stroke-width="5.6"/><line x1="585.0" y1="529.8" x2="586.0" y2="532.3" stroke-width="5.5"/><line x1="586.0" y1="532.3" x2="586.9" y2="534.8" stroke-width="5.4"/><line x1="586.9" y1="534.8" x2="587.7" y2="537.0" stroke-width="5.4"/><line x1="587.7" y1="537.0" x2="588.5" y2="539.0" stroke-width="5.3"/><line x1="588.5" y1="539.0" x2="589.2" y2="540.6" stroke-width="5.2"/><line x1="589.2" y1="540.6" x2="589.9" y2="542.0" stroke-width="5.1"/><line x1="589.9" y1="542.0" x2="590.5" y2="543.1" stroke-width="5.0"/><line x1="590.5" y1="543.1" x2="591.0" y2="544.0" stroke-width="5.0"/><line x1="591.0" y1="544.0" x2="591.4" y2="544.7" stroke-width="4.9"/></g>
<g stroke="#0c0c0c" stroke-linecap="round" opacity="1.0"><line x1="578.4" y1="492.9" x2="578.9" y2="494.5" stroke-width="6.0"/><line x1="578.9" y1="494.5" x2="579.6" y2="496.7" stroke-width="5.8"/><line x1="579.6" y1="496.7" x2="580.4" y2="499.3" stroke-width="5.6"/><line x1="580.4" y1="499.3" x2="581.2" y2="502.0" stroke-width="5.5"/><line x1="581.2" y1="502.0" x2="582.0" y2="504.4" stroke-width="5.3"/><line x1="582.0" y1="504.4" x2="582.8" y2="506.5" stroke-width="5.2"/><line x1="582.8" y1="506.5" x2="583.5" y2="508.5" stroke-width="5.0"/><line x1="583.5" y1="508.5" x2="584.3" y2="510.4" stroke-width="4.8"/><line x1="584.3" y1="510.4" x2="585.1" y2="512.4" stroke-width="4.7"/><line x1="585.1" y1="512.4" x2="585.9" y2="514.5" stroke-width="4.5"/><line x1="585.9" y1="514.5" x2="586.7" y2="516.9" stroke-width="4.4"/><line x1="586.7" y1="516.9" x2="587.7" y2="519.5" stroke-width="4.2"/><line x1="587.7" y1="519.5" x2="588.6" y2="522.1" stroke-width="4.0"/><line x1="588.6" y1="522.1" x2="589.4" y2="524.4" stroke-width="3.9"/><line x1="589.4" y1="524.4" x2="589.9" y2="526.0" stroke-width="3.7"/></g>
<g stroke="#0c0c0c" stroke-linecap="round" opacity="1.0"><line x1="589.9" y1="492.9" x2="590.3" y2="494.5" stroke-width="7.2"/><line x1="590.3" y1="494.5" x2="590.9" y2="496.7" stroke-width="7.1"/><line x1="590.9" y1="496.7" x2="591.5" y2="499.3" stroke-width="7.0"/><line x1="591.5" y1="499.3" x2="592.2" y2="502.0" stroke-width="6.9"/><line x1="592.2" y1="502.0" x2="592.8" y2="504.4" stroke-width="6.8"/><line x1="592.8" y1="504.4" x2="593.4" y2="506.5" stroke-width="6.7"/><line x1="593.4" y1="506.5" x2="593.9" y2="508.5" stroke-width="6.6"/><line x1="593.9" y1="508.5" x2="594.5" y2="510.5" stroke-width="6.5"/><line x1="594.5" y1="510.5" x2="595.1" y2="512.5" stroke-width="6.4"/><line x1="595.1" y1="512.5" x2="595.7" y2="514.5" stroke-width="6.3"/><line x1="595.7" y1="514.5" x2="596.3" y2="516.4" stroke-width="6.2"/><line x1="596.3" y1="516.4" x2="596.8" y2="518.4" stroke-width="6.1"/><line x1="596.8" y1="518.4" x2="597.4" y2="520.3" stroke-width="6.0"/><line x1="597.4" y1="520.3" x2="598.0" y2="522.4" stroke-width="6.0"/><line x1="598.0" y1="522.4" x2="598.6" y2="524.6" stroke-width="5.9"/><line x1="598.6" y1="524.6" x2="599.2" y2="527.1" stroke-width="5.8"/><line x1="599.2" y1="527.1" x2="599.8" y2="529.8" stroke-width="5.7"/><line x1="599.8" y1="529.8" x2="600.4" y2="532.6" stroke-width="5.6"/><line x1="600.4" y1="532.6" x2="601.0" y2="535.2" stroke-width="5.5"/><line x1="601.0" y1="535.2" x2="601.4" y2="537.5" stroke-width="5.4"/><line x1="601.4" y1="537.5" x2="601.8" y2="539.4" stroke-width="5.3"/><line x1="601.8" y1="539.4" x2="602.2" y2="541.2" stroke-width="5.2"/><line x1="602.2" y1="541.2" x2="602.5" y2="542.6" stroke-width="5.1"/><line x1="602.5" y1="542.6" x2="602.7" y2="543.8" stroke-width="5.0"/><line x1="602.7" y1="543.8" x2="602.9" y2="544.7" stroke-width="4.9"/></g>
<g stroke="#0c0c0c" stroke-linecap="round" opacity="1.0"><line x1="601.4" y1="492.9" x2="601.8" y2="494.4" stroke-width="7.2"/><line x1="601.8" y1="494.4" x2="602.4" y2="496.5" stroke-width="7.1"/><line x1="602.4" y1="496.5" x2="603.0" y2="499.0" stroke-width="7.0"/><line x1="603.0" y1="499.0" x2="603.7" y2="501.7" stroke-width="6.9"/><line x1="603.7" y1="501.7" x2="604.3" y2="504.4" stroke-width="6.8"/><line x1="604.3" y1="504.4" x2="604.9" y2="507.1" stroke-width="6.7"/><line x1="604.9" y1="507.1" x2="605.5" y2="510.0" stroke-width="6.6"/><line x1="605.5" y1="510.0" x2="606.0" y2="512.9" stroke-width="6.5"/><line x1="606.0" y1="512.9" x2="606.6" y2="515.9" stroke-width="6.4"/><line x1="606.6" y1="515.9" x2="607.2" y2="518.8" stroke-width="6.3"/><line x1="607.2" y1="518.8" x2="607.8" y2="521.7" stroke-width="6.2"/><line x1="607.8" y1="521.7" x2="608.4" y2="524.7" stroke-width="6.1"/><line x1="608.4" y1="524.7" x2="609.0" y2="527.6" stroke-width="6.0"/><line x1="609.0" y1="527.6" x2="609.6" y2="530.5" stroke-width="6.0"/><line x1="609.6" y1="530.5" x2="610.1" y2="533.2" stroke-width="5.9"/><line x1="610.1" y1="533.2" x2="610.5" y2="535.7" stroke-width="5.8"/><line x1="610.5" y1="535.7" x2="610.9" y2="538.1" stroke-width="5.7"/><line x1="610.9" y1="538.1" x2="611.2" y2="540.3" stroke-width="5.6"/><line x1="611.2" y1="540.3" x2="611.4" y2="542.6" stroke-width="5.5"/><line x1="611.4" y1="542.6" x2="611.5" y2="544.7" stroke-width="5.4"/><line x1="611.5" y1="544.7" x2="611.5" y2="547.0" stroke-width="5.3"/><line x1="611.5" y1="547.0" x2="611.3" y2="549.3" stroke-width="5.2"/><line x1="611.3" y1="549.3" x2="611.1" y2="551.6" stroke-width="5.1"/><line x1="611.1" y1="551.6" x2="610.9" y2="553.4" stroke-width="5.0"/><line x1="610.9" y1="553.4" x2="610.8" y2="554.8" stroke-width="4.9"/></g>
<path d="M606.5,492.9 L607.9,499.4" fill="none" stroke="#0c0c0c" stroke-width="4.4" stroke-linecap="round" stroke-linejoin="round" opacity="1.0"/>
<g stroke="#0c0c0c" stroke-linecap="round" opacity="1.0"><line x1="620.2" y1="492.9" x2="620.2" y2="494.4" stroke-width="6.8"/><line x1="620.2" y1="494.4" x2="620.2" y2="496.5" stroke-width="6.7"/><line x1="620.2" y1="496.5" x2="620.3" y2="499.0" stroke-width="6.6"/><line x1="620.3" y1="499.0" x2="620.2" y2="501.7" stroke-width="6.4"/><line x1="620.2" y1="501.7" x2="620.2" y2="504.4" stroke-width="6.3"/><line x1="620.2" y1="504.4" x2="620.0" y2="507.1" stroke-width="6.2"/><line x1="620.0" y1="507.1" x2="619.7" y2="510.0" stroke-width="6.1"/><line x1="619.7" y1="510.0" x2="619.4" y2="512.9" stroke-width="5.9"/><line x1="619.4" y1="512.9" x2="619.0" y2="515.9" stroke-width="5.8"/><line x1="619.0" y1="515.9" x2="618.7" y2="518.8" stroke-width="5.7"/><line x1="618.7" y1="518.8" x2="618.4" y2="521.7" stroke-width="5.6"/><line x1="618.4" y1="521.7" x2="618.1" y2="524.8" stroke-width="5.5"/><line x1="618.1" y1="524.8" x2="617.8" y2="527.7" stroke-width="5.3"/><line x1="617.8" y1="527.7" x2="617.5" y2="530.6" stroke-width="5.2"/><line x1="617.5" y1="530.6" x2="617.3" y2="533.2" stroke-width="5.1"/><line x1="617.3" y1="533.2" x2="617.1" y2="535.7" stroke-width="5.0"/><line x1="617.1" y1="535.7" x2="616.9" y2="538.0" stroke-width="4.9"/><line x1="616.9" y1="538.0" x2="616.8" y2="540.2" stroke-width="4.7"/><line x1="616.8" y1="540.2" x2="616.6" y2="542.0" stroke-width="4.6"/><line x1="616.6" y1="542.0" x2="616.6" y2="543.3" stroke-width="4.5"/></g>
<path d="M628.8,520.2 L628.6,521.5 L628.4,523.3 L628.1,525.5 L627.8,527.9 L627.4,530.3 L626.9,532.9 L626.3,535.8 L625.7,538.7 L625.1,541.8 L624.5,544.7 L623.9,547.6 L623.4,550.6 L622.8,553.6 L622.3,556.4 L621.9,559.1 L621.5,561.7 L621.2,564.2 L620.9,566.6 L620.6,568.7 L620.4,570.6 L620.3,572.2 L620.3,573.6 L620.4,574.8 L620.4,575.7 L620.4,576.4" fill="none" stroke="#0c0c0c" stroke-width="5.2" stroke-linecap="round" stroke-linejoin="round" opacity="1.0"/>
<g stroke="#0c0c0c" stroke-linecap="round" opacity="1.0"><line x1="637.4" y1="492.9" x2="636.8" y2="494.5" stroke-width="6.7"/><line x1="636.8" y1="494.5" x2="636.0" y2="496.7" stroke-width="6.5"/><line x1="636.0" y1="496.7" x2="635.0" y2="499.3" stroke-width="6.2"/><line x1="635.0" y1="499.3" x2="634.1" y2="502.0" stroke-width="6.0"/><line x1="634.1" y1="502.0" x2="633.4" y2="504.4" stroke-width="5.8"/><line x1="633.4" y1="504.4" x2="632.9" y2="506.7" stroke-width="5.5"/><line x1="632.9" y1="506.7" x2="632.6" y2="509.0" stroke-width="5.3"/><line x1="632.6" y1="509.0" x2="632.3" y2="511.2" stroke-width="5.0"/><line x1="632.3" y1="511.2" x2="632.1" y2="513.1" stroke-width="4.8"/><line x1="632.1" y1="513.1" x2="632.0" y2="514.5" stroke-width="4.6"/></g>
<path d="M641.8,514.5 L650.4,517.4" fill="none" stroke="#0c0c0c" stroke-width="14.1" stroke-linecap="round" stroke-linejoin="round" opacity="1.0"/>
<path d="M637.4,513.0 L651.8,511.6" fill="none" stroke="#0c0c0c" stroke-width="8.1" stroke-linecap="round" stroke-linejoin="round" opacity="1.0"/>
<path d="M635.3,533.2 L635.6,534.9 L636.0,537.3 L636.5,540.0 L637.2,542.6 L638.2,544.7 L639.4,546.3 L641.0,547.6 L642.7,548.8 L644.5,549.7 L646.1,550.5 L647.6,551.1 L649.2,551.4 L650.8,551.7 L652.1,551.8 L653.0,551.9" fill="none" stroke="#0c0c0c" stroke-width="8.1" stroke-linecap="round" stroke-linejoin="round" opacity="1.0"/>
<path d="M651.8,492.9 L653.0,504.4" fill="none" stroke="#0c0c0c" stroke-width="8.1" stroke-linecap="round" stroke-linejoin="round" opacity="1.0"/>
<path d="M636.7,559.1 L636.9,560.3 L637.1,562.1 L637.3,564.1 L637.5,566.1 L637.7,567.8 L637.8,569.2 L638.0,570.5 L638.0,571.8 L638.1,572.8 L638.2,573.5" fill="none" stroke="#0c0c0c" stroke-width="8.1" stroke-linecap="round" stroke-linejoin="round" opacity="1.0"/>
<path d="M584.9,548.3 L586.3,548.8 L588.3,549.4 L590.7,550.2 L593.2,551.1 L595.7,551.9 L598.3,552.8 L601.3,553.9 L604.3,555.0 L606.8,555.9 L608.6,556.5" fill="none" stroke="#0c0c0c" stroke-width="10.1" stroke-linecap="round" stroke-linejoin="round" opacity="1.0"/>
<path d="M564.7,573.8 L567.7,573.4 L571.9,572.9 L576.7,572.3 L581.5,571.8 L585.6,571.5 L589.0,571.4 L592.1,571.4 L595.0,571.5 L597.6,571.8 L600.0,572.1 L602.1,572.5 L604.0,573.2 L605.6,573.9 L606.9,574.5 L607.9,575.0" fill="none" stroke="#0c0c0c" stroke-width="11.1" stroke-linecap="round" stroke-linejoin="round" opacity="1.0"/>
<path d="M577.7,586.5 L579.1,586.8 L581.2,587.3 L583.6,587.8 L586.1,588.3 L588.5,588.8 L590.7,589.1 L593.0,589.5 L595.4,589.8 L597.7,590.1 L600.0,590.2 L602.5,590.3 L605.2,590.2 L607.7,590.1 L609.9,590.0 L611.5,589.9" fill="none" stroke="#0c0c0c" stroke-width="9.3" stroke-linecap="round" stroke-linejoin="round" opacity="1.0"/>
<path d="M616.1,585.0 L617.8,584.8 L620.2,584.4 L623.0,584.0 L625.9,583.7 L628.8,583.6 L631.6,583.7 L634.6,584.0 L637.7,584.4 L640.6,584.7 L643.2,585.0 L645.6,585.3 L647.9,585.5 L650.0,585.6 L651.7,585.8 L653.0,585.9" fill="none" stroke="#0c0c0c" stroke-width="9.7" stroke-linecap="round" stroke-linejoin="round" opacity="1.0"/>
<path d="M568.3,553.4 L568.7,554.3 L569.3,555.6 L570.0,557.1 L570.7,558.6 L571.2,559.8 L571.6,560.8 L571.9,561.7 L572.2,562.4 L572.5,563.0 L572.6,563.4" fill="none" stroke="#0c0c0c" stroke-width="7.3" stroke-linecap="round" stroke-linejoin="round" opacity="1.0"/>
<path d="M556.4,555.5 L557.1,564.2" fill="none" stroke="#0c0c0c" stroke-width="4.4" stroke-linecap="round" stroke-linejoin="round" opacity="1.0"/>
<path d="M542.7,544.7 L543.3,545.8 L544.1,547.3 L545.0,549.0 L545.9,550.7 L546.7,552.2 L547.4,553.6 L548.1,554.9 L548.7,556.2 L549.2,557.2 L549.6,558.0" fill="none" stroke="#0c0c0c" stroke-width="4.8" stroke-linecap="round" stroke-linejoin="round" opacity="1.0"/>
<path d="M549.6,562.7 L549.9,563.9 L550.4,565.5 L550.9,567.4 L551.2,569.2 L551.0,570.6 L550.4,571.7 L549.4,572.5 L548.1,573.2 L546.7,573.7 L545.3,574.2 L543.6,574.6 L541.6,574.9 L539.6,575.0 L537.9,575.1 L536.6,575.2" fill="none" stroke="#0c0c0c" stroke-width="7.7" stroke-linecap="round" stroke-linejoin="round" opacity="1.0"/>
<path d="M528.0,590.8 L530.0,590.5 L532.7,590.1 L535.9,589.7 L539.3,589.4 L542.4,589.4 L545.4,589.7 L548.6,590.2 L551.6,590.9 L554.5,591.6 L556.8,592.2 L558.6,592.8 L560.1,593.4 L561.3,594.0 L562.2,594.5 L562.8,594.8" fill="none" stroke="#0c0c0c" stroke-width="5.6" stroke-linecap="round" stroke-linejoin="round" opacity="1.0"/>
<path d="M568.6,598.0 L569.6,598.8 L571.0,600.0 L572.6,601.4 L574.2,602.8 L575.8,604.0 L577.3,605.2 L578.8,606.4 L580.2,607.5 L581.7,608.7 L583.0,609.8 L584.3,611.0 L585.7,612.2 L586.9,613.3 L588.0,614.3 L588.8,615.0" fill="none" stroke="#0c0c0c" stroke-width="5.2" stroke-linecap="round" stroke-linejoin="round" opacity="1.0"/>
<path d="M536.9,603.8 L539.8,615.0" fill="none" stroke="#0c0c0c" stroke-width="4.8" stroke-linecap="round" stroke-linejoin="round" opacity="1.0"/>
<path d="M545.6,605.2 L548.4,615.0" fill="none" stroke="#0c0c0c" stroke-width="4.8" stroke-linecap="round" stroke-linejoin="round" opacity="1.0"/>
<path d="M560.0,609.5 L561.4,615.0" fill="none" stroke="#0c0c0c" stroke-width="4.8" stroke-linecap="round" stroke-linejoin="round" opacity="1.0"/>
<path d="M598.8,599.7 L600.2,600.6 L602.1,601.8 L604.3,603.2 L606.6,604.4 L608.6,605.2 L610.5,605.4 L612.4,605.4 L614.3,605.1 L615.9,604.6 L617.3,604.0 L618.3,603.3 L619.1,602.2 L619.7,601.1 L620.1,600.1 L620.4,599.4" fill="none" stroke="#0c0c0c" stroke-width="6.0" stroke-linecap="round" stroke-linejoin="round" opacity="1.0"/>
<path d="M640.3,603.8 L653.0,605.2" fill="none" stroke="#0c0c0c" stroke-width="12.1" stroke-linecap="round" stroke-linejoin="round" opacity="1.0"/>
<path d="M530.9,547.6 L531.4,549.0 L532.1,551.0 L532.9,553.4 L533.8,555.7 L534.5,557.7 L535.1,559.4 L535.7,561.1 L536.2,562.7 L536.6,563.9 L536.9,564.9" fill="none" stroke="#0c0c0c" stroke-width="6.0" stroke-linecap="round" stroke-linejoin="round" opacity="1.0"/>
<circle cx="627.4" cy="521.0" r="2.0" fill="#0c0c0c" opacity="1.0"/>
<path d="M588.5,550.5 L589.7,550.8 L591.4,551.2 L593.3,551.7 L595.3,552.3 L597.1,552.8 L598.8,553.3 L600.4,553.8 L602.0,554.3 L603.4,554.8 L604.3,555.1" fill="none" stroke="#4a4a4a" stroke-width="4.4" stroke-linecap="round" stroke-linejoin="round" opacity="0.8"/>
<path d="M569.8,573.2 L571.9,573.0 L575.0,572.5 L578.6,572.1 L582.3,571.7 L585.6,571.5 L588.8,571.5 L592.1,571.6 L595.3,571.8 L598.1,572.0 L600.0,572.1" fill="none" stroke="#4a4a4a" stroke-width="5.2" stroke-linecap="round" stroke-linejoin="round" opacity="0.8"/>
<path d="M582.7,587.6 L584.1,587.9 L586.0,588.2 L588.2,588.7 L590.5,589.1 L592.8,589.4 L595.2,589.6 L597.9,589.7 L600.5,589.8 L602.7,589.9 L604.3,589.9" fill="none" stroke="#4a4a4a" stroke-width="4.0" stroke-linecap="round" stroke-linejoin="round" opacity="0.8"/>
<path d="M620.2,585.0 L621.7,584.8 L623.9,584.5 L626.5,584.2 L629.2,584.0 L631.7,583.9 L634.2,584.0 L636.8,584.2 L639.4,584.5 L641.6,584.8 L643.2,585.0" fill="none" stroke="#4a4a4a" stroke-width="4.4" stroke-linecap="round" stroke-linejoin="round" opacity="0.8"/>
<path d="M407.2,614.5 L408.9,615.2 L411.2,616.2 L413.9,617.5 L416.8,618.9 L419.6,620.3 L422.4,621.8 L425.3,623.5 L428.2,625.2 L431.2,627.1 L434.3,629.1 L437.7,631.4 L441.4,634.1 L445.0,636.8 L448.2,639.2 L450.4,640.8" fill="none" stroke="#0c0c0c" stroke-width="5.7" stroke-linecap="round" stroke-linejoin="round" opacity="1.0"/>
<path d="M434.3,614.5 L435.4,614.8 L437.0,615.3 L438.9,615.9 L441.0,616.4 L443.1,616.7 L445.4,616.7 L448.1,616.5 L450.8,616.3 L453.1,616.1 L454.8,615.9" fill="none" stroke="#0c0c0c" stroke-width="4.9" stroke-linecap="round" stroke-linejoin="round" opacity="1.0"/>
<circle cx="466.2" cy="623.2" r="3.7" fill="#0c0c0c" opacity="1.0"/>
<path d="M468.2,633.8 L469.2,634.9 L470.6,636.5 L472.3,638.4 L474.0,640.4 L475.6,642.3 L477.0,644.1 L478.5,645.9 L479.9,647.7 L481.4,649.5 L482.9,651.3 L484.3,653.1 L485.8,654.8 L487.3,656.4 L488.7,658.2 L490.2,660.1 L491.7,662.3 L493.2,664.6 L494.7,667.0 L496.1,669.3 L497.5,671.5 L498.9,673.7 L500.2,675.9 L501.5,678.0 L502.6,679.8 L503.4,681.1" fill="none" stroke="#0c0c0c" stroke-width="6.1" stroke-linecap="round" stroke-linejoin="round" opacity="1.0"/>
<path d="M501.6,678.9 L507.5,688.4" fill="none" stroke="#0c0c0c" stroke-width="10.2" stroke-linecap="round" stroke-linejoin="round" opacity="1.0"/>
<path d="M460.9,651.3 L461.9,652.3 L463.3,653.7 L465.0,655.3 L466.7,657.0 L468.2,658.7 L469.7,660.4 L471.3,662.2 L472.9,664.1 L474.3,665.9 L475.6,667.4 L476.6,668.9 L477.6,670.2 L478.5,671.3 L479.1,672.3 L479.6,673.0" fill="none" stroke="#0c0c0c" stroke-width="5.7" stroke-linecap="round" stroke-linejoin="round" opacity="1.0"/>
<path d="M479.9,615.9 L481.0,616.9 L482.4,618.2 L484.1,619.8 L485.8,621.6 L487.3,623.5 L488.6,625.8 L490.0,628.5 L491.3,631.2 L492.3,633.6 L493.1,635.2" fill="none" stroke="#0c0c0c" stroke-width="5.3" stroke-linecap="round" stroke-linejoin="round" opacity="1.0"/>
<path d="M500.4,613.0 L500.8,614.5 L501.4,616.6 L502.1,619.0 L502.7,621.8 L503.4,624.7 L503.9,628.1 L504.6,632.2 L505.1,636.2 L505.6,639.8 L506.0,642.3" fill="none" stroke="#0c0c0c" stroke-width="5.3" stroke-linecap="round" stroke-linejoin="round" opacity="1.0"/>
<path d="M522.4,613.0 L523.0,615.0 L523.9,617.7 L524.9,621.0 L525.9,624.4 L526.8,627.6 L527.5,631.0 L528.1,634.7 L528.6,638.4 L529.1,641.5 L529.4,643.7" fill="none" stroke="#0c0c0c" stroke-width="2.9" stroke-linecap="round" stroke-linejoin="round" opacity="1.0"/>
<circle cx="528.7" cy="668.6" r="3.5" fill="#0c0c0c" opacity="1.0"/>
<circle cx="528.7" cy="686.2" r="3.5" fill="#0c0c0c" opacity="1.0"/>
<circle cx="528.7" cy="708.1" r="3.5" fill="#0c0c0c" opacity="1.0"/>
<circle cx="528.7" cy="725.7" r="3.7" fill="#0c0c0c" opacity="1.0"/>
<path d="M430.8,721.6 L430.8,727.5" fill="none" stroke="#0c0c0c" stroke-width="1.6" stroke-linecap="round" stroke-linejoin="round" opacity="1.0"/>
<circle cx="624.6" cy="672.3" r="5.6" fill="#6a6a6a" opacity="0.9"/>
<path d="M642.1,634.9 L645.0,645.2" fill="none" stroke="#6a6a6a" stroke-width="14.3" stroke-linecap="round" stroke-linejoin="round" opacity="0.9"/>
<path d="M540.0,615.9 L540.4,617.5 L540.9,619.6 L541.5,622.2 L542.1,624.9 L542.6,627.6 L543.1,630.6 L543.6,634.0 L544.1,637.3 L544.5,640.2 L544.8,642.3" fill="none" stroke="#0c0c0c" stroke-width="4.9" stroke-linecap="round" stroke-linejoin="round" opacity="1.0"/>
<path d="M529.5,634.9 L529.8,636.4 L530.2,638.4 L530.7,640.7 L531.2,643.1 L531.7,645.5 L532.1,647.9 L532.6,650.5 L533.1,653.1 L533.6,655.3 L533.9,656.9" fill="none" stroke="#0c0c0c" stroke-width="4.9" stroke-linecap="round" stroke-linejoin="round" opacity="1.0"/>
<path d="M554.3,620.3 L554.6,621.9 L555.0,624.2 L555.4,626.9 L555.7,629.6 L555.8,632.0 L555.6,634.2 L555.2,636.2 L554.6,638.2 L554.0,640.2 L553.2,642.3 L552.1,644.5 L550.8,646.8 L549.4,649.1 L548.2,651.1 L547.3,652.5" fill="none" stroke="#0c0c0c" stroke-width="5.7" stroke-linecap="round" stroke-linejoin="round" opacity="1.0"/>
<path d="M561.9,614.5 L564.6,622.1" fill="none" stroke="#0c0c0c" stroke-width="4.9" stroke-linecap="round" stroke-linejoin="round" opacity="1.0"/>
<path d="M579.5,622.5 L580.2,623.4 L581.1,624.6 L582.2,626.0 L583.1,627.5 L583.6,629.1 L583.7,630.8 L583.5,632.6 L583.1,634.5 L582.5,636.3 L581.8,637.9 L581.0,639.3 L579.9,640.5 L578.7,641.7 L577.5,642.7 L576.3,643.4 L575.1,643.9 L573.8,644.2 L572.5,644.3 L571.5,644.4 L570.7,644.5" fill="none" stroke="#0c0c0c" stroke-width="10.2" stroke-linecap="round" stroke-linejoin="round" opacity="1.0"/>
<path d="M589.7,614.8 L591.3,615.6 L593.5,616.7 L596.0,618.1 L598.7,619.4 L601.2,620.6 L603.6,621.6 L606.2,622.5 L608.7,623.3 L611.0,624.1 L612.9,625.0 L614.3,625.9 L615.4,627.0 L616.2,627.9 L616.8,628.8 L617.2,629.4" fill="none" stroke="#0c0c0c" stroke-width="7.0" stroke-linecap="round" stroke-linejoin="round" opacity="1.0"/>
<path d="M599.7,629.4 L600.4,639.6" fill="none" stroke="#0c0c0c" stroke-width="8.2" stroke-linecap="round" stroke-linejoin="round" opacity="1.0"/>
<path d="M611.7,642.3 L619.9,643.7" fill="none" stroke="#0c0c0c" stroke-width="8.2" stroke-linecap="round" stroke-linejoin="round" opacity="1.0"/>
<path d="M586.8,651.3 L588.1,651.9 L589.8,652.8 L591.9,653.8 L594.2,654.7 L596.8,655.4 L599.8,655.8 L603.5,656.1 L607.3,656.2 L610.6,656.2 L612.9,656.3" fill="none" stroke="#0c0c0c" stroke-width="7.4" stroke-linecap="round" stroke-linejoin="round" opacity="1.0"/>
<path d="M554.6,652.8 L556.0,653.8 L557.9,655.2 L560.1,656.8 L562.4,658.5 L564.6,660.1 L566.6,661.6 L568.7,663.1 L570.8,664.6 L572.9,666.1 L574.8,667.4 L576.6,668.8 L578.3,670.1 L579.9,671.3 L581.7,672.3 L583.6,673.0 L585.9,673.2 L588.6,673.1 L591.3,672.8 L593.7,672.5 L595.3,672.3" fill="none" stroke="#0c0c0c" stroke-width="8.2" stroke-linecap="round" stroke-linejoin="round" opacity="1.0"/>
<path d="M604.4,675.9 L614.0,675.9" fill="none" stroke="#0c0c0c" stroke-width="9.0" stroke-linecap="round" stroke-linejoin="round" opacity="1.0"/>
<path d="M627.8,618.9 L628.6,620.4 L629.6,622.6 L630.9,625.2 L632.3,627.9 L633.6,630.6 L635.0,633.1 L636.5,635.9 L638.1,638.6 L639.6,641.3 L640.9,643.7 L642.2,646.1 L643.4,648.6 L644.6,650.9 L645.7,652.7 L646.8,654.0 L647.9,654.6 L648.9,654.6 L649.9,654.3 L650.8,653.5 L651.6,652.5 L652.3,651.1 L652.9,649.2 L653.3,647.1 L653.7,644.7 L653.8,642.3 L653.7,639.4 L653.4,636.0 L653.0,632.6 L652.6,629.7 L652.4,627.6" fill="none" stroke="#0c0c0c" stroke-width="7.8" stroke-linecap="round" stroke-linejoin="round" opacity="1.0"/>
<path d="M645.0,681.8 L642.4,691.3" fill="none" stroke="#0c0c0c" stroke-width="18.4" stroke-linecap="round" stroke-linejoin="round" opacity="1.0"/>
<path d="M529.5,668.9 L531.2,669.2 L533.7,669.6 L536.6,670.1 L539.7,670.8 L542.6,671.8 L545.5,673.2 L548.5,674.9 L551.5,676.8 L554.5,678.7 L557.3,680.6 L559.8,682.5 L562.2,684.5 L564.4,686.4 L566.7,688.1 L569.0,689.4 L571.2,690.1 L573.2,690.4 L575.4,690.4 L577.8,690.2 L580.7,690.1 L584.5,689.9 L589.2,689.5 L594.0,689.0 L598.2,688.6 L601.2,688.3" fill="none" stroke="#0c0c0c" stroke-width="8.2" stroke-linecap="round" stroke-linejoin="round" opacity="1.0"/>
<path d="M570.7,692.0 L571.0,693.2 L571.3,695.0 L571.7,697.0 L572.1,699.0 L572.2,700.8 L572.1,702.5 L571.7,704.2 L571.3,705.8 L571.0,707.1 L570.7,708.1" fill="none" stroke="#0c0c0c" stroke-width="5.3" stroke-linecap="round" stroke-linejoin="round" opacity="1.0"/>
<path d="M529.5,683.5 L530.4,684.3 L531.8,685.4 L533.4,686.6 L535.1,688.0 L536.8,689.4 L538.5,690.8 L540.5,692.3 L542.4,693.9 L544.2,695.4 L545.6,696.7 L546.6,697.8 L547.3,698.8 L547.8,699.6 L548.2,700.3 L548.5,700.8" fill="none" stroke="#0c0c0c" stroke-width="9.0" stroke-linecap="round" stroke-linejoin="round" opacity="1.0"/>
<path d="M529.5,706.9 L530.9,707.3 L532.8,707.9 L535.1,708.5 L537.5,709.2 L539.7,709.9 L541.8,710.5 L544.0,711.1 L546.2,711.7 L548.2,712.3 L549.9,712.8 L551.5,713.2 L552.9,713.5 L554.1,713.8 L555.1,714.1 L555.8,714.2" fill="none" stroke="#0c0c0c" stroke-width="8.2" stroke-linecap="round" stroke-linejoin="round" opacity="1.0"/>
<path d="M529.5,724.5 L530.5,725.1 L531.9,726.0 L533.5,727.0 L535.2,728.0 L536.8,728.9 L538.3,729.5 L539.8,730.1 L541.3,730.6 L542.7,731.1 L544.1,731.8 L545.5,732.7 L546.8,733.7 L548.1,734.7 L549.2,735.6 L549.9,736.2" fill="none" stroke="#0c0c0c" stroke-width="8.2" stroke-linecap="round" stroke-linejoin="round" opacity="1.0"/>
<path d="M551.4,725.9 L552.2,725.8 L553.3,725.5 L554.6,725.2 L556.0,724.9 L557.3,724.5 L558.6,723.9 L560.0,723.3 L561.4,722.6 L562.6,722.0 L563.4,721.6" fill="none" stroke="#0c0c0c" stroke-width="4.9" stroke-linecap="round" stroke-linejoin="round" opacity="1.0"/>
<path d="M560.5,724.5 L560.7,726.2 L561.0,728.7 L561.3,731.5 L561.6,734.2 L561.9,736.2 L562.3,737.5 L562.6,738.5 L562.9,739.1 L563.2,739.6 L563.4,740.0" fill="none" stroke="#0c0c0c" stroke-width="5.7" stroke-linecap="round" stroke-linejoin="round" opacity="1.0"/>
<path d="M572.2,718.6 L573.4,718.2 L575.1,717.6 L577.0,716.9 L579.1,716.2 L581.0,715.7 L582.7,715.3 L584.3,715.1 L586.0,714.9 L587.8,714.6 L589.7,714.2 L592.0,713.7 L594.7,713.0 L597.3,712.3 L599.6,711.7 L601.2,711.3" fill="none" stroke="#0c0c0c" stroke-width="5.7" stroke-linecap="round" stroke-linejoin="round" opacity="1.0"/>
<path d="M570.7,730.3 L571.9,730.1 L573.7,729.9 L575.7,729.5 L577.7,729.2 L579.5,728.9 L581.2,728.6 L582.9,728.2 L584.5,727.9 L585.8,727.6 L586.8,727.4" fill="none" stroke="#0c0c0c" stroke-width="4.9" stroke-linecap="round" stroke-linejoin="round" opacity="1.0"/>
<path d="M575.1,736.2 L583.9,740.0" fill="none" stroke="#0c0c0c" stroke-width="4.9" stroke-linecap="round" stroke-linejoin="round" opacity="1.0"/>
<circle cx="614.3" cy="692.0" r="4.7" fill="#0c0c0c" opacity="1.0"/>
<path d="M623.4,690.5 L627.8,701.1" fill="none" stroke="#0c0c0c" stroke-width="5.7" stroke-linecap="round" stroke-linejoin="round" opacity="1.0"/>
<circle cx="632.2" cy="689.8" r="2.3" fill="#0c0c0c" opacity="1.0"/>
<circle cx="601.4" cy="699.3" r="3.5" fill="#0c0c0c" opacity="1.0"/>
<circle cx="610.2" cy="700.8" r="2.3" fill="#0c0c0c" opacity="1.0"/>
<path d="M588.3,705.5 L595.6,704.0" fill="none" stroke="#0c0c0c" stroke-width="4.9" stroke-linecap="round" stroke-linejoin="round" opacity="1.0"/>
<circle cx="569.3" cy="708.1" r="2.9" fill="#0c0c0c" opacity="1.0"/>
<path d="M619.9,708.1 L621.6,714.0" fill="none" stroke="#0c0c0c" stroke-width="5.3" stroke-linecap="round" stroke-linejoin="round" opacity="1.0"/>
<path d="M646.5,708.1 L655.0,709.6" fill="none" stroke="#0c0c0c" stroke-width="7.4" stroke-linecap="round" stroke-linejoin="round" opacity="1.0"/>
<path d="M648.3,715.7 L655.0,718.6" fill="none" stroke="#0c0c0c" stroke-width="6.1" stroke-linecap="round" stroke-linejoin="round" opacity="1.0"/>
<path d="M639.2,737.4 L655.0,734.4" fill="none" stroke="#0c0c0c" stroke-width="6.1" stroke-linecap="round" stroke-linejoin="round" opacity="1.0"/>
<path d="M621.6,735.9 L624.6,740.0" fill="none" stroke="#0c0c0c" stroke-width="4.9" stroke-linecap="round" stroke-linejoin="round" opacity="1.0"/>
<path d="M596.8,735.9 L607.0,740.0" fill="none" stroke="#0c0c0c" stroke-width="4.9" stroke-linecap="round" stroke-linejoin="round" opacity="1.0"/>
</g>
<rect x="591.0" y="715.1" width="56.1" height="18.1" fill="#fff" />
<text x="606.8" y="728.0" font-size="12.6" text-anchor="start" fill="#000" textLength="28" lengthAdjust="spacingAndGlyphs" >2 µm</text>
<rect x="601.2" y="730.4" width="34.8" height="1.8" fill="#000" />
</g>
<line x1="406.8" y1="737.9" x2="652.8" y2="737.9" stroke="#9a9a9a" stroke-width="1" />
<defs><clipPath id="taclip"><rect x="687.1" y="426.6" width="233.8" height="156.7"/></clipPath>
<filter id="tablur" x="-10%" y="-10%" width="120%" height="120%"><feGaussianBlur stdDeviation="2.6"/></filter>
<filter id="blur1b" x="-5%" y="-5%" width="110%" height="110%"><feGaussianBlur stdDeviation="1.6"/></filter>
<filter id="noise1" x="0" y="0" width="100%" height="100%"><feTurbulence type="fractalNoise" baseFrequency="0.9" numOctaves="2" seed="3"/><feColorMatrix type="matrix" values="0 0 0 0 0.5  0 0 0 0 0.5  0 0 0 0 0.5  0 0 0 1.6 -0.55"/></filter>
</defs>
<g clip-path="url(#taclip)">
<rect x="687.1" y="426.6" width="233.8" height="156.7" fill="#cdcdcd" />
<g filter="url(#tablur)">
<polygon points="790,420 925,420 925,500 890,494 850,484 800,478 786,470" fill="#e2e2e2"/>
<ellipse cx="885" cy="455" rx="45" ry="30" fill="#eaeaea"/>
<ellipse cx="694" cy="448" rx="14" ry="26" fill="#b4b4b4"/>
<polygon points="714,422 748,422 741,446 726,464 710,480 692,492 686,492 686,470 700,452" fill="#4a4a4a"/>
<polygon points="722,424 740,424 733,446 718,466 700,484 692,480 706,458" fill="#333"/>
<polygon points="752,424 770,424 770,478 748,480" fill="#c4c4c4"/>
<ellipse cx="778" cy="440" rx="10" ry="14" fill="#2e2e2e"/>
<ellipse cx="799" cy="428" rx="12" ry="6" fill="#333"/>
<ellipse cx="786" cy="470" rx="22" ry="8" fill="#686868"/>
<ellipse cx="807" cy="463" rx="9" ry="11" fill="#4a4a4a"/>
<circle cx="845" cy="477" r="6" fill="#f4f4f4"/>
<polygon points="686,496 696,500 696,530 686,532" fill="#4a4a4a"/>
<polygon points="775,545 800,552 837,561 874,576 895,590 772,590" fill="#f4f4f4"/>
<path d="M735,548 C745,540 765,540 776,549 C781,560 776,575 774,590 L740,590 C736,578 731,560 735,548 Z" fill="#2a2a2a"/>
<polygon points="684,541 733,543 733,566 684,566" fill="#d8d8d8"/>
<polygon points="684,578 740,576 740,590 684,590" fill="#1c1c1c"/>
</g>
<g filter="url(#blur1b)">
<path d="M729,485 C750,479 780,478 806,479 C840,482 880,490 925,505 L925,590 L895,590 C860,570 820,556 790,545 C765,537 745,529 733,521 C722,512 719,491 729,485 Z" fill="#979797"/>
<path d="M727,486 C750,479 780,478 806,479 C840,482 880,490 925,505" stroke="#b0b0b0" stroke-width="4" fill="none"/>
</g>
<g filter="url(#tablur)">
<ellipse cx="905" cy="550" rx="28" ry="26" fill="#8a8a8a" opacity="0.8"/>
<path d="M689,503 Q708,486 747,484" stroke="#d8d8d8" stroke-width="8" fill="none"/>
<path d="M711,507 Q717,494 741,493" stroke="#444" stroke-width="5" fill="none"/>
<ellipse cx="723" cy="523" rx="14" ry="11" fill="#dcdcdc"/>
<path d="M699,511 Q698,544 723,543 Q741,541 747,529" stroke="#333" stroke-width="7" fill="none"/>
</g>
<g filter="url(#blur1)"><circle cx="853.4" cy="456.4" r="1.1" fill="#777" opacity="0.49"/><circle cx="859.9" cy="457.8" r="0.6" fill="#777" opacity="0.50"/><circle cx="874.3" cy="467.9" r="0.6" fill="#777" opacity="0.42"/><circle cx="810.7" cy="468.7" r="0.9" fill="#777" opacity="0.32"/><circle cx="915.9" cy="476.3" r="0.9" fill="#777" opacity="0.55"/><circle cx="818.6" cy="429.7" r="0.8" fill="#777" opacity="0.32"/><circle cx="822.4" cy="440.9" r="0.5" fill="#777" opacity="0.49"/><circle cx="852.0" cy="470.3" r="0.8" fill="#777" opacity="0.56"/><circle cx="859.0" cy="461.5" r="0.8" fill="#777" opacity="0.41"/><circle cx="917.7" cy="477.8" r="1.0" fill="#777" opacity="0.58"/><circle cx="837.2" cy="440.3" r="0.7" fill="#777" opacity="0.33"/><circle cx="890.4" cy="448.6" r="1.0" fill="#777" opacity="0.45"/><circle cx="913.0" cy="470.5" r="0.5" fill="#777" opacity="0.38"/><circle cx="907.4" cy="452.0" r="1.1" fill="#777" opacity="0.46"/><circle cx="808.6" cy="459.8" r="1.0" fill="#777" opacity="0.41"/><circle cx="810.3" cy="445.3" r="1.1" fill="#777" opacity="0.60"/><circle cx="813.9" cy="441.1" r="0.6" fill="#777" opacity="0.32"/><circle cx="894.0" cy="437.7" r="0.8" fill="#777" opacity="0.48"/><circle cx="822.5" cy="464.9" r="0.6" fill="#777" opacity="0.56"/><circle cx="813.7" cy="449.6" r="0.6" fill="#777" opacity="0.41"/><circle cx="914.6" cy="468.4" r="0.7" fill="#777" opacity="0.65"/><circle cx="824.9" cy="448.3" r="1.0" fill="#777" opacity="0.56"/><circle cx="811.8" cy="477.5" r="0.6" fill="#777" opacity="0.40"/><circle cx="891.2" cy="445.1" r="0.7" fill="#777" opacity="0.33"/><circle cx="810.6" cy="457.6" r="0.6" fill="#777" opacity="0.54"/><circle cx="843.9" cy="451.2" r="1.1" fill="#777" opacity="0.49"/><circle cx="867.8" cy="471.5" r="0.6" fill="#777" opacity="0.36"/><circle cx="907.2" cy="469.1" r="0.6" fill="#777" opacity="0.38"/><circle cx="887.3" cy="475.1" r="0.6" fill="#777" opacity="0.68"/><circle cx="904.1" cy="458.6" r="0.8" fill="#777" opacity="0.34"/><circle cx="804.6" cy="476.2" r="0.6" fill="#777" opacity="0.58"/><circle cx="830.3" cy="469.4" r="0.9" fill="#777" opacity="0.42"/><circle cx="820.7" cy="464.3" r="0.5" fill="#777" opacity="0.39"/><circle cx="866.0" cy="470.8" r="0.9" fill="#777" opacity="0.41"/><circle cx="908.2" cy="439.0" r="0.5" fill="#777" opacity="0.41"/><circle cx="852.6" cy="432.0" r="0.6" fill="#777" opacity="0.45"/><circle cx="867.5" cy="435.4" r="0.7" fill="#777" opacity="0.66"/><circle cx="915.7" cy="461.2" r="0.9" fill="#777" opacity="0.53"/><circle cx="816.6" cy="430.7" r="0.5" fill="#777" opacity="0.66"/><circle cx="882.7" cy="476.2" r="0.5" fill="#777" opacity="0.55"/><circle cx="856.9" cy="464.8" r="0.7" fill="#777" opacity="0.70"/><circle cx="808.9" cy="455.8" r="0.9" fill="#777" opacity="0.66"/><circle cx="887.0" cy="463.5" r="1.0" fill="#777" opacity="0.67"/><circle cx="841.5" cy="462.6" r="1.0" fill="#777" opacity="0.65"/><circle cx="849.2" cy="467.7" r="1.0" fill="#777" opacity="0.53"/><circle cx="723.6" cy="455.5" r="0.8" fill="#ddd" opacity="0.48"/><circle cx="692.6" cy="474.0" r="1.0" fill="#ddd" opacity="0.56"/><circle cx="729.5" cy="456.0" r="0.9" fill="#ddd" opacity="0.47"/><circle cx="713.1" cy="488.4" r="0.5" fill="#ddd" opacity="0.53"/><circle cx="689.7" cy="471.3" r="0.7" fill="#ddd" opacity="0.37"/><circle cx="727.8" cy="463.8" r="0.8" fill="#ddd" opacity="0.58"/><circle cx="702.6" cy="428.8" r="0.7" fill="#ddd" opacity="0.50"/><circle cx="699.5" cy="440.2" r="1.0" fill="#ddd" opacity="0.50"/><circle cx="713.2" cy="492.2" r="0.7" fill="#ddd" opacity="0.50"/><circle cx="699.3" cy="459.0" r="0.9" fill="#ddd" opacity="0.57"/><circle cx="738.2" cy="455.7" r="0.8" fill="#ddd" opacity="0.39"/><circle cx="695.8" cy="463.7" r="0.9" fill="#ddd" opacity="0.55"/><circle cx="728.5" cy="496.4" r="0.6" fill="#ddd" opacity="0.35"/><circle cx="713.7" cy="447.8" r="0.6" fill="#ddd" opacity="0.42"/><circle cx="723.7" cy="463.6" r="0.7" fill="#ddd" opacity="0.55"/><circle cx="744.0" cy="460.6" r="0.5" fill="#ddd" opacity="0.31"/><circle cx="737.8" cy="431.0" r="0.9" fill="#ddd" opacity="0.47"/><circle cx="705.6" cy="485.0" r="0.5" fill="#ddd" opacity="0.34"/><circle cx="713.9" cy="429.8" r="0.9" fill="#ddd" opacity="0.37"/><circle cx="696.0" cy="431.4" r="0.8" fill="#ddd" opacity="0.43"/><circle cx="723.9" cy="475.2" r="0.9" fill="#ddd" opacity="0.59"/><circle cx="727.0" cy="442.4" r="0.7" fill="#ddd" opacity="0.35"/><circle cx="688.6" cy="462.0" r="0.9" fill="#ddd" opacity="0.35"/><circle cx="703.5" cy="452.9" r="0.8" fill="#ddd" opacity="0.46"/><circle cx="723.0" cy="482.4" r="0.7" fill="#ddd" opacity="0.54"/></g>
<rect x="687.1" y="426.6" width="233.8" height="156.7" filter="url(#noise1)" opacity="0.35"/>
<text x="755.6" y="459.3" font-size="9.6" fill="#fff" textLength="31.7" lengthAdjust="spacingAndGlyphs">HRTEM</text>
<rect x="756.6" y="466.7" width="28.9" height="23.6" fill="none" stroke="#b03a3a" stroke-width="1.3" opacity="0.85"/>
<text transform="translate(828.5,506.3) rotate(16)" font-size="10.2" fill="#fff" textLength="31" lengthAdjust="spacingAndGlyphs">Growth</text>
<line x1="800.3" y1="507.3" x2="877.0" y2="530.8" stroke="#fff" stroke-width="0.9" />
<polygon points="879.2,531.5 873.8,527.8 872.6,532.2" fill="#fff"/>
<rect x="689.7" y="564.2" width="37.3" height="14.6" fill="#fff" />
<text x="695.3" y="573.7" font-size="9.8" font-weight="bold" fill="#000" textLength="27" lengthAdjust="spacingAndGlyphs">20 nm</text>
<rect x="700.2" y="575.3" width="17.7" height="1.3" fill="#222" />
<text x="896.8" y="578.8" font-size="9.6" fill="#fff" textLength="11.2" lengthAdjust="spacingAndGlyphs">(a)</text>
</g>
<defs><clipPath id="tbclip"><rect x="687.2" y="588.5" width="266.8" height="179.3"/></clipPath>
<filter id="noise2" x="0" y="0" width="100%" height="100%" color-interpolation-filters="sRGB"><feTurbulence type="fractalNoise" baseFrequency="0.42" numOctaves="2" seed="9"/><feColorMatrix type="matrix" values="1.5 0 0 0 -0.4  1.5 0 0 0 -0.4  1.5 0 0 0 -0.4  0 0 0 0 1"/></filter>
<pattern id="lat" width="2.35" height="3.1" patternUnits="userSpaceOnUse" patternTransform="rotate(4)"><rect width="2.35" height="3.1" fill="#434343"/><ellipse cx="1.17" cy="1.55" rx="0.62" ry="1.3" fill="#9e9e9e"/></pattern>
<pattern id="lat2" width="3.2" height="3.2" patternUnits="userSpaceOnUse" patternTransform="rotate(-25)"><rect width="3.2" height="3.2" fill="#585858"/><circle cx="1.6" cy="1.6" r="0.9" fill="#7a7a7a"/></pattern>
<linearGradient id="latfade" x1="0" y1="0" x2="0" y2="1"><stop offset="0" stop-color="#fff" stop-opacity="0"/><stop offset="0.5" stop-color="#fff" stop-opacity="0"/><stop offset="0.58" stop-color="#fff" stop-opacity="0.9"/><stop offset="1" stop-color="#fff" stop-opacity="0.9"/></linearGradient>
<linearGradient id="latfade2" x1="0" y1="0" x2="0" y2="1"><stop offset="0" stop-color="#fff" stop-opacity="0.7"/><stop offset="0.45" stop-color="#fff" stop-opacity="0.7"/><stop offset="0.55" stop-color="#fff" stop-opacity="0"/></linearGradient>
<mask id="latmask"><rect x="687.2" y="588.5" width="266.8" height="179.3" fill="url(#latfade)"/></mask>
<mask id="latmask2"><rect x="687.2" y="588.5" width="266.8" height="179.3" fill="url(#latfade2)"/></mask>
</defs>
<g clip-path="url(#tbclip)">
<rect x="687.2" y="588.5" width="266.8" height="179.3" fill="#5e5e5e" />
<rect x="687.2" y="588.5" width="266.8" height="179.3" fill="url(#lat2)" mask="url(#latmask2)"/>
<rect x="687.2" y="588.5" width="266.8" height="179.3" fill="url(#lat)" mask="url(#latmask)"/>
<rect x="687.2" y="588.5" width="266.8" height="179.3" filter="url(#noise2)" opacity="0.32"/>
<g filter="url(#blur3)">
<ellipse cx="825" cy="630" rx="32" ry="26" fill="#7c7c7c" opacity="0.7"/>
<ellipse cx="795" cy="662" rx="60" ry="9" fill="#828282" opacity="0.7"/>
<ellipse cx="758" cy="686" rx="20" ry="10" fill="#9a9a9a" opacity="0.75"/>
<ellipse cx="905" cy="645" rx="30" ry="24" fill="#505050" opacity="0.5"/>
<ellipse cx="697" cy="676" rx="16" ry="8" fill="#444" opacity="0.7"/>
<ellipse cx="740" cy="612" rx="55" ry="24" fill="#6e6e6e" opacity="0.6"/>
</g>
<g filter="url(#blur1)" opacity="0.55">
<line x1="690.9" y1="672.9" x2="691.4" y2="677.3" stroke="#2e2e2e" stroke-width="2.0"/>
<line x1="693.9" y1="672.7" x2="694.4" y2="677.1" stroke="#2e2e2e" stroke-width="2.0"/>
<line x1="699.4" y1="673.3" x2="699.9" y2="677.7" stroke="#2e2e2e" stroke-width="2.0"/>
<line x1="702.5" y1="673.7" x2="703.0" y2="678.1" stroke="#2e2e2e" stroke-width="2.0"/>
<line x1="708.4" y1="674.7" x2="708.9" y2="679.1" stroke="#2e2e2e" stroke-width="2.0"/>
<line x1="711.5" y1="673.1" x2="712.0" y2="677.5" stroke="#2e2e2e" stroke-width="2.0"/>
<line x1="717.2" y1="674.1" x2="717.7" y2="678.5" stroke="#2e2e2e" stroke-width="2.0"/>
<line x1="721.2" y1="673.0" x2="721.7" y2="677.4" stroke="#2e2e2e" stroke-width="2.0"/>
<line x1="724.3" y1="674.5" x2="724.8" y2="678.9" stroke="#2e2e2e" stroke-width="2.0"/>
<line x1="729.5" y1="673.0" x2="730.0" y2="677.4" stroke="#2e2e2e" stroke-width="2.0"/>
<line x1="734.9" y1="674.4" x2="735.4" y2="678.8" stroke="#2e2e2e" stroke-width="2.0"/>
<line x1="739.0" y1="673.1" x2="739.5" y2="677.5" stroke="#2e2e2e" stroke-width="2.0"/>
<line x1="743.5" y1="673.1" x2="744.0" y2="677.5" stroke="#2e2e2e" stroke-width="2.0"/>
<line x1="747.9" y1="674.0" x2="748.4" y2="678.4" stroke="#2e2e2e" stroke-width="2.0"/>
<line x1="751.3" y1="674.3" x2="751.8" y2="678.7" stroke="#2e2e2e" stroke-width="2.0"/>
<line x1="756.9" y1="673.6" x2="757.4" y2="678.0" stroke="#2e2e2e" stroke-width="2.0"/>
<line x1="759.7" y1="674.3" x2="760.2" y2="678.7" stroke="#2e2e2e" stroke-width="2.0"/>
<line x1="764.3" y1="673.3" x2="764.8" y2="677.7" stroke="#2e2e2e" stroke-width="2.0"/>
<line x1="768.5" y1="673.2" x2="769.0" y2="677.6" stroke="#2e2e2e" stroke-width="2.0"/>
<line x1="773.0" y1="673.8" x2="773.5" y2="678.2" stroke="#2e2e2e" stroke-width="2.0"/>
<line x1="777.6" y1="674.9" x2="778.1" y2="679.3" stroke="#2e2e2e" stroke-width="2.0"/>
<line x1="782.0" y1="674.4" x2="782.5" y2="678.8" stroke="#2e2e2e" stroke-width="2.0"/>
<line x1="786.2" y1="674.0" x2="786.7" y2="678.4" stroke="#2e2e2e" stroke-width="2.0"/>
<line x1="790.2" y1="673.8" x2="790.7" y2="678.2" stroke="#2e2e2e" stroke-width="2.0"/>
<line x1="794.6" y1="675.0" x2="795.1" y2="679.4" stroke="#2e2e2e" stroke-width="2.0"/>
<line x1="800.1" y1="673.7" x2="800.6" y2="678.1" stroke="#2e2e2e" stroke-width="2.0"/>
<line x1="804.3" y1="675.5" x2="804.8" y2="679.9" stroke="#2e2e2e" stroke-width="2.0"/>
<line x1="808.0" y1="675.3" x2="808.5" y2="679.7" stroke="#2e2e2e" stroke-width="2.0"/>
<line x1="813.1" y1="674.5" x2="813.6" y2="678.9" stroke="#2e2e2e" stroke-width="2.0"/>
<line x1="818.3" y1="674.3" x2="818.8" y2="678.7" stroke="#2e2e2e" stroke-width="2.0"/>
<line x1="822.0" y1="675.0" x2="822.5" y2="679.4" stroke="#2e2e2e" stroke-width="2.0"/>
<line x1="827.4" y1="674.2" x2="827.9" y2="678.6" stroke="#2e2e2e" stroke-width="2.0"/>
<line x1="831.5" y1="675.1" x2="832.0" y2="679.5" stroke="#2e2e2e" stroke-width="2.0"/>
<line x1="835.5" y1="674.4" x2="836.0" y2="678.8" stroke="#2e2e2e" stroke-width="2.0"/>
<line x1="839.3" y1="673.6" x2="839.8" y2="678.0" stroke="#2e2e2e" stroke-width="2.0"/>
<line x1="843.3" y1="673.7" x2="843.8" y2="678.1" stroke="#2e2e2e" stroke-width="2.0"/>
<line x1="848.9" y1="674.2" x2="849.4" y2="678.6" stroke="#2e2e2e" stroke-width="2.0"/>
<line x1="852.1" y1="673.8" x2="852.6" y2="678.2" stroke="#2e2e2e" stroke-width="2.0"/>
<line x1="857.9" y1="675.7" x2="858.4" y2="680.1" stroke="#2e2e2e" stroke-width="2.0"/>
<line x1="861.9" y1="667.5" x2="862.4" y2="685.5" stroke="#2e2e2e" stroke-width="2.0"/>
<line x1="865.5" y1="667.6" x2="866.0" y2="685.6" stroke="#2e2e2e" stroke-width="2.0"/>
<line x1="870.3" y1="667.3" x2="870.8" y2="685.3" stroke="#2e2e2e" stroke-width="2.0"/>
<line x1="874.7" y1="667.5" x2="875.2" y2="685.5" stroke="#2e2e2e" stroke-width="2.0"/>
<line x1="880.1" y1="669.3" x2="880.6" y2="687.3" stroke="#2e2e2e" stroke-width="2.0"/>
<line x1="883.7" y1="667.5" x2="884.2" y2="685.5" stroke="#2e2e2e" stroke-width="2.0"/>
<line x1="888.9" y1="667.7" x2="889.4" y2="685.7" stroke="#2e2e2e" stroke-width="2.0"/>
<line x1="892.1" y1="667.0" x2="892.6" y2="685.0" stroke="#2e2e2e" stroke-width="2.0"/>
<line x1="896.6" y1="668.2" x2="897.1" y2="686.2" stroke="#2e2e2e" stroke-width="2.0"/>
<line x1="901.2" y1="667.5" x2="901.7" y2="685.5" stroke="#2e2e2e" stroke-width="2.0"/>
<line x1="905.6" y1="667.1" x2="906.1" y2="685.1" stroke="#2e2e2e" stroke-width="2.0"/>
<line x1="909.5" y1="667.3" x2="910.0" y2="685.3" stroke="#2e2e2e" stroke-width="2.0"/>
<line x1="914.2" y1="667.2" x2="914.7" y2="685.2" stroke="#2e2e2e" stroke-width="2.0"/>
<line x1="917.8" y1="667.9" x2="918.3" y2="685.9" stroke="#2e2e2e" stroke-width="2.0"/>
<line x1="922.7" y1="668.6" x2="923.2" y2="686.6" stroke="#2e2e2e" stroke-width="2.0"/>
<line x1="927.7" y1="669.0" x2="928.2" y2="687.0" stroke="#2e2e2e" stroke-width="2.0"/>
<line x1="932.3" y1="669.0" x2="932.8" y2="687.0" stroke="#2e2e2e" stroke-width="2.0"/>
<line x1="937.2" y1="668.2" x2="937.7" y2="686.2" stroke="#2e2e2e" stroke-width="2.0"/>
<line x1="940.5" y1="669.7" x2="941.0" y2="687.7" stroke="#2e2e2e" stroke-width="2.0"/>
<line x1="944.5" y1="669.1" x2="945.0" y2="687.1" stroke="#2e2e2e" stroke-width="2.0"/>
<line x1="949.9" y1="667.5" x2="950.4" y2="685.5" stroke="#2e2e2e" stroke-width="2.0"/>
</g>
<text x="704.7" y="599.1" font-size="10" fill="#fff" textLength="33.4" lengthAdjust="spacingAndGlyphs">Growth</text>
<line x1="699.2" y1="602.7" x2="736.0" y2="602.7" stroke="#fff" stroke-width="0.9" stroke-dasharray="1,0.8" />
<polygon points="739,602.7 735,600.6 735,604.8" fill="#fff"/>
<text x="907.7" y="606.2" font-size="9.8" fill="#fff" textLength="32.8" lengthAdjust="spacingAndGlyphs">[001]Al</text>
<rect x="798.8" y="602.5" width="53.0" height="52.8" fill="none" stroke="#b03838" stroke-width="1.1" opacity="0.85"/>
<text x="805.2" y="619.5" font-size="9.5" fill="#fff">A</text>
<rect x="736.6" y="650.5" width="54.8" height="52.6" fill="none" stroke="#b03838" stroke-width="1.1" opacity="0.85"/>
<text x="744.0" y="667.5" font-size="9.5" fill="#fff">B</text>
<rect x="818.5" y="702.3" width="53.4" height="52.7" fill="none" stroke="#b03838" stroke-width="1.1" opacity="0.85"/>
<text x="822.8" y="719.7" font-size="9.5" fill="#fff">C</text>
<text x="887.7" y="735.6" font-size="9.8" fill="#fff" textLength="54.6" lengthAdjust="spacingAndGlyphs">[111]Al<tspan font-size="6.5" dy="2">11</tspan><tspan dy="-2">Ce</tspan><tspan font-size="6.5" dy="2">3</tspan></text>
<line x1="890.4" y1="726.6" x2="895.8" y2="726.6" stroke="#fff" stroke-width="0.9" />
<rect x="691.6" y="750.0" width="37.5" height="13.8" fill="#fff" />
<text x="699.8" y="758.7" font-size="9.3" font-weight="bold" fill="#000" textLength="22.2" lengthAdjust="spacingAndGlyphs">5 nm</text>
<rect x="699.1" y="760.1" width="24.8" height="1.2" fill="#000" />
<text x="933.0" y="759.6" font-size="9.6" fill="#fff" textLength="12" lengthAdjust="spacingAndGlyphs">(b)</text>
</g>
<defs><radialGradient id="glow"><stop offset="0" stop-color="#dcdcdc"/><stop offset="0.3" stop-color="#b0b0b0"/><stop offset="0.6" stop-color="#5a5a5a" stop-opacity="0.7"/><stop offset="1" stop-color="#2d2d2d" stop-opacity="0"/></radialGradient><filter id="noise3" x="0" y="0" width="100%" height="100%" color-interpolation-filters="sRGB"><feTurbulence type="fractalNoise" baseFrequency="0.7" numOctaves="2" seed="5"/><feColorMatrix type="matrix" values="0.9 0 0 0 -0.27  0.9 0 0 0 -0.27  0.9 0 0 0 -0.27  0 0 0 0 1"/></filter></defs>
<rect x="687.1" y="773.2" width="85.7" height="86.4" fill="#2e2e2e" />
<rect x="687.1" y="773.2" width="85.7" height="86.4" filter="url(#noise3)" opacity="0.4"/>
<circle cx="730.1" cy="816.4" r="21" fill="url(#glow)" opacity="0.9"/>
<rect x="777.4" y="773.2" width="85.6" height="86.4" fill="#2e2e2e" />
<rect x="777.4" y="773.2" width="85.6" height="86.4" filter="url(#noise3)" opacity="0.4"/>
<circle cx="819.8" cy="816.4" r="21" fill="url(#glow)" opacity="0.9"/>
<rect x="868.5" y="773.2" width="85.5" height="86.4" fill="#2e2e2e" />
<rect x="868.5" y="773.2" width="85.5" height="86.4" filter="url(#noise3)" opacity="0.4"/>
<circle cx="911.5" cy="816.4" r="20" fill="url(#glow)" opacity="0.9"/>
<line x1="687.1" y1="807.3" x2="772.8" y2="807.3" stroke="#6a6a6a" stroke-width="0.7" opacity="0.6"/>
<line x1="687.1" y1="825.3" x2="772.8" y2="825.3" stroke="#6a6a6a" stroke-width="0.7" opacity="0.6"/>
<line x1="725.1" y1="795.0" x2="725.1" y2="840.0" stroke="#6a6a6a" stroke-width="0.7" opacity="0.5"/>
<line x1="735.1" y1="795.0" x2="735.1" y2="840.0" stroke="#6a6a6a" stroke-width="0.7" opacity="0.5"/>
<circle cx="733.8" cy="802.3" r="1.1" fill="#f4f4f4"/>
<circle cx="725.1" cy="807.3" r="1.1" fill="#f4f4f4"/>
<circle cx="738.9" cy="811.3" r="1.1" fill="#f4f4f4"/>
<circle cx="715.7" cy="812.4" r="1.1" fill="#f4f4f4"/>
<circle cx="730.1" cy="816.3" r="1.1" fill="#f4f4f4"/>
<circle cx="721.6" cy="821.6" r="1.1" fill="#f4f4f4"/>
<circle cx="744" cy="820.4" r="1.1" fill="#f4f4f4"/>
<circle cx="735.1" cy="825.3" r="1.1" fill="#f4f4f4"/>
<circle cx="726.3" cy="830.4" r="1.1" fill="#f4f4f4"/>
<circle cx="812.5" cy="806.5" r="0.9" fill="#e8e8e8" opacity="0.9"/>
<circle cx="824.5" cy="805.5" r="0.9" fill="#e8e8e8" opacity="0.9"/>
<circle cx="818.0" cy="812.0" r="0.9" fill="#e8e8e8" opacity="0.9"/>
<circle cx="808.5" cy="814.0" r="0.9" fill="#e8e8e8" opacity="0.9"/>
<circle cx="829.0" cy="813.5" r="0.9" fill="#e8e8e8" opacity="0.9"/>
<circle cx="819.8" cy="816.4" r="0.9" fill="#e8e8e8" opacity="0.9"/>
<circle cx="814.0" cy="820.5" r="0.9" fill="#e8e8e8" opacity="0.9"/>
<circle cx="826.0" cy="819.5" r="0.9" fill="#e8e8e8" opacity="0.9"/>
<circle cx="806.5" cy="822.5" r="0.9" fill="#e8e8e8" opacity="0.9"/>
<circle cx="831.5" cy="823.5" r="0.9" fill="#e8e8e8" opacity="0.9"/>
<circle cx="819.0" cy="826.0" r="0.9" fill="#e8e8e8" opacity="0.9"/>
<circle cx="811.5" cy="829.5" r="0.9" fill="#e8e8e8" opacity="0.9"/>
<circle cx="825.5" cy="829.0" r="0.9" fill="#e8e8e8" opacity="0.9"/>
<circle cx="804.0" cy="809.0" r="0.9" fill="#e8e8e8" opacity="0.9"/>
<circle cx="834.0" cy="818.0" r="0.9" fill="#e8e8e8" opacity="0.9"/>
<line x1="868.5" y1="816.2" x2="954.0" y2="816.2" stroke="#7a7a7a" stroke-width="0.8" opacity="0.7"/>
<line x1="906.5" y1="773.2" x2="906.5" y2="859.6" stroke="#666" stroke-width="0.7" opacity="0.5"/>
<line x1="917.0" y1="773.2" x2="917.0" y2="859.6" stroke="#666" stroke-width="0.7" opacity="0.5"/>
<circle cx="906.5" cy="816.2" r="1.0" fill="#f4f4f4"/>
<circle cx="917.0" cy="816.2" r="1.0" fill="#f4f4f4"/>
<circle cx="911.5" cy="826.0" r="1.0" fill="#f4f4f4"/>
<text x="755.9" y="785.9" font-size="9.4" fill="#fff">A</text>
<text x="851.0" y="785.9" font-size="9.4" fill="#fff">B</text>
<text x="938.3" y="785.9" font-size="9.4" fill="#fff">C</text>
<text x="729" y="850.3" font-size="9.8" fill="#fff" textLength="30.7" lengthAdjust="spacingAndGlyphs">[001]Al</text>
<text x="882.9" y="850.3" font-size="9.8" fill="#fff" textLength="54.5" lengthAdjust="spacingAndGlyphs">[111]Al<tspan font-size="6.5" dy="2">11</tspan><tspan dy="-2">Ce</tspan><tspan font-size="6.5" dy="2">3</tspan></text>
<line x1="885.8" y1="840.6" x2="891.6" y2="840.6" stroke="#fff" stroke-width="0.9" />
</svg>
</body></html>
